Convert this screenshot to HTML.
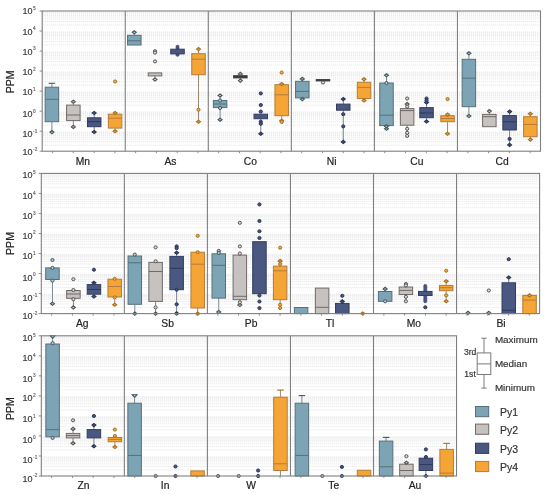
<!DOCTYPE html>
<html><head><meta charset="utf-8"><style>
html,body{margin:0;padding:0;background:#fff;}
svg{display:block;filter:blur(0.3px);font-family:"Liberation Sans",sans-serif;}
</style></head><body>
<svg width="550" height="495" viewBox="0 0 550 495">
<rect width="550" height="495" fill="#fff"/>
<line x1="43.2" y1="25.00" x2="539.5" y2="25.00" stroke="#dadada" stroke-width="0.7" stroke-dasharray="1 1"/>
<line x1="43.2" y1="21.47" x2="539.5" y2="21.47" stroke="#dadada" stroke-width="0.7" stroke-dasharray="1 1"/>
<line x1="43.2" y1="18.97" x2="539.5" y2="18.97" stroke="#dadada" stroke-width="0.7" stroke-dasharray="1 1"/>
<line x1="43.2" y1="17.03" x2="539.5" y2="17.03" stroke="#dadada" stroke-width="0.7" stroke-dasharray="1 1"/>
<line x1="43.2" y1="15.44" x2="539.5" y2="15.44" stroke="#dadada" stroke-width="0.7" stroke-dasharray="1 1"/>
<line x1="43.2" y1="14.10" x2="539.5" y2="14.10" stroke="#dadada" stroke-width="0.7" stroke-dasharray="1 1"/>
<line x1="43.2" y1="12.94" x2="539.5" y2="12.94" stroke="#dadada" stroke-width="0.7" stroke-dasharray="1 1"/>
<line x1="43.2" y1="11.92" x2="539.5" y2="11.92" stroke="#dadada" stroke-width="0.7" stroke-dasharray="1 1"/>
<line x1="43.2" y1="45.03" x2="539.5" y2="45.03" stroke="#dadada" stroke-width="0.7" stroke-dasharray="1 1"/>
<line x1="43.2" y1="41.50" x2="539.5" y2="41.50" stroke="#dadada" stroke-width="0.7" stroke-dasharray="1 1"/>
<line x1="43.2" y1="39.00" x2="539.5" y2="39.00" stroke="#dadada" stroke-width="0.7" stroke-dasharray="1 1"/>
<line x1="43.2" y1="37.06" x2="539.5" y2="37.06" stroke="#dadada" stroke-width="0.7" stroke-dasharray="1 1"/>
<line x1="43.2" y1="35.47" x2="539.5" y2="35.47" stroke="#dadada" stroke-width="0.7" stroke-dasharray="1 1"/>
<line x1="43.2" y1="34.13" x2="539.5" y2="34.13" stroke="#dadada" stroke-width="0.7" stroke-dasharray="1 1"/>
<line x1="43.2" y1="32.97" x2="539.5" y2="32.97" stroke="#dadada" stroke-width="0.7" stroke-dasharray="1 1"/>
<line x1="43.2" y1="31.95" x2="539.5" y2="31.95" stroke="#dadada" stroke-width="0.7" stroke-dasharray="1 1"/>
<line x1="43.2" y1="65.06" x2="539.5" y2="65.06" stroke="#dadada" stroke-width="0.7" stroke-dasharray="1 1"/>
<line x1="43.2" y1="61.53" x2="539.5" y2="61.53" stroke="#dadada" stroke-width="0.7" stroke-dasharray="1 1"/>
<line x1="43.2" y1="59.03" x2="539.5" y2="59.03" stroke="#dadada" stroke-width="0.7" stroke-dasharray="1 1"/>
<line x1="43.2" y1="57.09" x2="539.5" y2="57.09" stroke="#dadada" stroke-width="0.7" stroke-dasharray="1 1"/>
<line x1="43.2" y1="55.50" x2="539.5" y2="55.50" stroke="#dadada" stroke-width="0.7" stroke-dasharray="1 1"/>
<line x1="43.2" y1="54.16" x2="539.5" y2="54.16" stroke="#dadada" stroke-width="0.7" stroke-dasharray="1 1"/>
<line x1="43.2" y1="53.00" x2="539.5" y2="53.00" stroke="#dadada" stroke-width="0.7" stroke-dasharray="1 1"/>
<line x1="43.2" y1="51.97" x2="539.5" y2="51.97" stroke="#dadada" stroke-width="0.7" stroke-dasharray="1 1"/>
<line x1="43.2" y1="85.09" x2="539.5" y2="85.09" stroke="#dadada" stroke-width="0.7" stroke-dasharray="1 1"/>
<line x1="43.2" y1="81.56" x2="539.5" y2="81.56" stroke="#dadada" stroke-width="0.7" stroke-dasharray="1 1"/>
<line x1="43.2" y1="79.06" x2="539.5" y2="79.06" stroke="#dadada" stroke-width="0.7" stroke-dasharray="1 1"/>
<line x1="43.2" y1="77.11" x2="539.5" y2="77.11" stroke="#dadada" stroke-width="0.7" stroke-dasharray="1 1"/>
<line x1="43.2" y1="75.53" x2="539.5" y2="75.53" stroke="#dadada" stroke-width="0.7" stroke-dasharray="1 1"/>
<line x1="43.2" y1="74.19" x2="539.5" y2="74.19" stroke="#dadada" stroke-width="0.7" stroke-dasharray="1 1"/>
<line x1="43.2" y1="73.03" x2="539.5" y2="73.03" stroke="#dadada" stroke-width="0.7" stroke-dasharray="1 1"/>
<line x1="43.2" y1="72.00" x2="539.5" y2="72.00" stroke="#dadada" stroke-width="0.7" stroke-dasharray="1 1"/>
<line x1="43.2" y1="105.11" x2="539.5" y2="105.11" stroke="#dadada" stroke-width="0.7" stroke-dasharray="1 1"/>
<line x1="43.2" y1="101.59" x2="539.5" y2="101.59" stroke="#dadada" stroke-width="0.7" stroke-dasharray="1 1"/>
<line x1="43.2" y1="99.08" x2="539.5" y2="99.08" stroke="#dadada" stroke-width="0.7" stroke-dasharray="1 1"/>
<line x1="43.2" y1="97.14" x2="539.5" y2="97.14" stroke="#dadada" stroke-width="0.7" stroke-dasharray="1 1"/>
<line x1="43.2" y1="95.56" x2="539.5" y2="95.56" stroke="#dadada" stroke-width="0.7" stroke-dasharray="1 1"/>
<line x1="43.2" y1="94.22" x2="539.5" y2="94.22" stroke="#dadada" stroke-width="0.7" stroke-dasharray="1 1"/>
<line x1="43.2" y1="93.06" x2="539.5" y2="93.06" stroke="#dadada" stroke-width="0.7" stroke-dasharray="1 1"/>
<line x1="43.2" y1="92.03" x2="539.5" y2="92.03" stroke="#dadada" stroke-width="0.7" stroke-dasharray="1 1"/>
<line x1="43.2" y1="125.14" x2="539.5" y2="125.14" stroke="#dadada" stroke-width="0.7" stroke-dasharray="1 1"/>
<line x1="43.2" y1="121.62" x2="539.5" y2="121.62" stroke="#dadada" stroke-width="0.7" stroke-dasharray="1 1"/>
<line x1="43.2" y1="119.11" x2="539.5" y2="119.11" stroke="#dadada" stroke-width="0.7" stroke-dasharray="1 1"/>
<line x1="43.2" y1="117.17" x2="539.5" y2="117.17" stroke="#dadada" stroke-width="0.7" stroke-dasharray="1 1"/>
<line x1="43.2" y1="115.59" x2="539.5" y2="115.59" stroke="#dadada" stroke-width="0.7" stroke-dasharray="1 1"/>
<line x1="43.2" y1="114.25" x2="539.5" y2="114.25" stroke="#dadada" stroke-width="0.7" stroke-dasharray="1 1"/>
<line x1="43.2" y1="113.08" x2="539.5" y2="113.08" stroke="#dadada" stroke-width="0.7" stroke-dasharray="1 1"/>
<line x1="43.2" y1="112.06" x2="539.5" y2="112.06" stroke="#dadada" stroke-width="0.7" stroke-dasharray="1 1"/>
<line x1="43.2" y1="145.17" x2="539.5" y2="145.17" stroke="#dadada" stroke-width="0.7" stroke-dasharray="1 1"/>
<line x1="43.2" y1="141.64" x2="539.5" y2="141.64" stroke="#dadada" stroke-width="0.7" stroke-dasharray="1 1"/>
<line x1="43.2" y1="139.14" x2="539.5" y2="139.14" stroke="#dadada" stroke-width="0.7" stroke-dasharray="1 1"/>
<line x1="43.2" y1="137.20" x2="539.5" y2="137.20" stroke="#dadada" stroke-width="0.7" stroke-dasharray="1 1"/>
<line x1="43.2" y1="135.61" x2="539.5" y2="135.61" stroke="#dadada" stroke-width="0.7" stroke-dasharray="1 1"/>
<line x1="43.2" y1="134.27" x2="539.5" y2="134.27" stroke="#dadada" stroke-width="0.7" stroke-dasharray="1 1"/>
<line x1="43.2" y1="133.11" x2="539.5" y2="133.11" stroke="#dadada" stroke-width="0.7" stroke-dasharray="1 1"/>
<line x1="43.2" y1="132.09" x2="539.5" y2="132.09" stroke="#dadada" stroke-width="0.7" stroke-dasharray="1 1"/>
<line x1="42.3" y1="187.40" x2="538.6" y2="187.40" stroke="#dadada" stroke-width="0.7" stroke-dasharray="1 1"/>
<line x1="42.3" y1="183.87" x2="538.6" y2="183.87" stroke="#dadada" stroke-width="0.7" stroke-dasharray="1 1"/>
<line x1="42.3" y1="181.37" x2="538.6" y2="181.37" stroke="#dadada" stroke-width="0.7" stroke-dasharray="1 1"/>
<line x1="42.3" y1="179.43" x2="538.6" y2="179.43" stroke="#dadada" stroke-width="0.7" stroke-dasharray="1 1"/>
<line x1="42.3" y1="177.84" x2="538.6" y2="177.84" stroke="#dadada" stroke-width="0.7" stroke-dasharray="1 1"/>
<line x1="42.3" y1="176.50" x2="538.6" y2="176.50" stroke="#dadada" stroke-width="0.7" stroke-dasharray="1 1"/>
<line x1="42.3" y1="175.34" x2="538.6" y2="175.34" stroke="#dadada" stroke-width="0.7" stroke-dasharray="1 1"/>
<line x1="42.3" y1="174.32" x2="538.6" y2="174.32" stroke="#dadada" stroke-width="0.7" stroke-dasharray="1 1"/>
<line x1="42.3" y1="207.43" x2="538.6" y2="207.43" stroke="#dadada" stroke-width="0.7" stroke-dasharray="1 1"/>
<line x1="42.3" y1="203.90" x2="538.6" y2="203.90" stroke="#dadada" stroke-width="0.7" stroke-dasharray="1 1"/>
<line x1="42.3" y1="201.40" x2="538.6" y2="201.40" stroke="#dadada" stroke-width="0.7" stroke-dasharray="1 1"/>
<line x1="42.3" y1="199.46" x2="538.6" y2="199.46" stroke="#dadada" stroke-width="0.7" stroke-dasharray="1 1"/>
<line x1="42.3" y1="197.87" x2="538.6" y2="197.87" stroke="#dadada" stroke-width="0.7" stroke-dasharray="1 1"/>
<line x1="42.3" y1="196.53" x2="538.6" y2="196.53" stroke="#dadada" stroke-width="0.7" stroke-dasharray="1 1"/>
<line x1="42.3" y1="195.37" x2="538.6" y2="195.37" stroke="#dadada" stroke-width="0.7" stroke-dasharray="1 1"/>
<line x1="42.3" y1="194.35" x2="538.6" y2="194.35" stroke="#dadada" stroke-width="0.7" stroke-dasharray="1 1"/>
<line x1="42.3" y1="227.46" x2="538.6" y2="227.46" stroke="#dadada" stroke-width="0.7" stroke-dasharray="1 1"/>
<line x1="42.3" y1="223.93" x2="538.6" y2="223.93" stroke="#dadada" stroke-width="0.7" stroke-dasharray="1 1"/>
<line x1="42.3" y1="221.43" x2="538.6" y2="221.43" stroke="#dadada" stroke-width="0.7" stroke-dasharray="1 1"/>
<line x1="42.3" y1="219.49" x2="538.6" y2="219.49" stroke="#dadada" stroke-width="0.7" stroke-dasharray="1 1"/>
<line x1="42.3" y1="217.90" x2="538.6" y2="217.90" stroke="#dadada" stroke-width="0.7" stroke-dasharray="1 1"/>
<line x1="42.3" y1="216.56" x2="538.6" y2="216.56" stroke="#dadada" stroke-width="0.7" stroke-dasharray="1 1"/>
<line x1="42.3" y1="215.40" x2="538.6" y2="215.40" stroke="#dadada" stroke-width="0.7" stroke-dasharray="1 1"/>
<line x1="42.3" y1="214.37" x2="538.6" y2="214.37" stroke="#dadada" stroke-width="0.7" stroke-dasharray="1 1"/>
<line x1="42.3" y1="247.49" x2="538.6" y2="247.49" stroke="#dadada" stroke-width="0.7" stroke-dasharray="1 1"/>
<line x1="42.3" y1="243.96" x2="538.6" y2="243.96" stroke="#dadada" stroke-width="0.7" stroke-dasharray="1 1"/>
<line x1="42.3" y1="241.46" x2="538.6" y2="241.46" stroke="#dadada" stroke-width="0.7" stroke-dasharray="1 1"/>
<line x1="42.3" y1="239.51" x2="538.6" y2="239.51" stroke="#dadada" stroke-width="0.7" stroke-dasharray="1 1"/>
<line x1="42.3" y1="237.93" x2="538.6" y2="237.93" stroke="#dadada" stroke-width="0.7" stroke-dasharray="1 1"/>
<line x1="42.3" y1="236.59" x2="538.6" y2="236.59" stroke="#dadada" stroke-width="0.7" stroke-dasharray="1 1"/>
<line x1="42.3" y1="235.43" x2="538.6" y2="235.43" stroke="#dadada" stroke-width="0.7" stroke-dasharray="1 1"/>
<line x1="42.3" y1="234.40" x2="538.6" y2="234.40" stroke="#dadada" stroke-width="0.7" stroke-dasharray="1 1"/>
<line x1="42.3" y1="267.51" x2="538.6" y2="267.51" stroke="#dadada" stroke-width="0.7" stroke-dasharray="1 1"/>
<line x1="42.3" y1="263.99" x2="538.6" y2="263.99" stroke="#dadada" stroke-width="0.7" stroke-dasharray="1 1"/>
<line x1="42.3" y1="261.48" x2="538.6" y2="261.48" stroke="#dadada" stroke-width="0.7" stroke-dasharray="1 1"/>
<line x1="42.3" y1="259.54" x2="538.6" y2="259.54" stroke="#dadada" stroke-width="0.7" stroke-dasharray="1 1"/>
<line x1="42.3" y1="257.96" x2="538.6" y2="257.96" stroke="#dadada" stroke-width="0.7" stroke-dasharray="1 1"/>
<line x1="42.3" y1="256.62" x2="538.6" y2="256.62" stroke="#dadada" stroke-width="0.7" stroke-dasharray="1 1"/>
<line x1="42.3" y1="255.46" x2="538.6" y2="255.46" stroke="#dadada" stroke-width="0.7" stroke-dasharray="1 1"/>
<line x1="42.3" y1="254.43" x2="538.6" y2="254.43" stroke="#dadada" stroke-width="0.7" stroke-dasharray="1 1"/>
<line x1="42.3" y1="287.54" x2="538.6" y2="287.54" stroke="#dadada" stroke-width="0.7" stroke-dasharray="1 1"/>
<line x1="42.3" y1="284.02" x2="538.6" y2="284.02" stroke="#dadada" stroke-width="0.7" stroke-dasharray="1 1"/>
<line x1="42.3" y1="281.51" x2="538.6" y2="281.51" stroke="#dadada" stroke-width="0.7" stroke-dasharray="1 1"/>
<line x1="42.3" y1="279.57" x2="538.6" y2="279.57" stroke="#dadada" stroke-width="0.7" stroke-dasharray="1 1"/>
<line x1="42.3" y1="277.99" x2="538.6" y2="277.99" stroke="#dadada" stroke-width="0.7" stroke-dasharray="1 1"/>
<line x1="42.3" y1="276.65" x2="538.6" y2="276.65" stroke="#dadada" stroke-width="0.7" stroke-dasharray="1 1"/>
<line x1="42.3" y1="275.48" x2="538.6" y2="275.48" stroke="#dadada" stroke-width="0.7" stroke-dasharray="1 1"/>
<line x1="42.3" y1="274.46" x2="538.6" y2="274.46" stroke="#dadada" stroke-width="0.7" stroke-dasharray="1 1"/>
<line x1="42.3" y1="307.57" x2="538.6" y2="307.57" stroke="#dadada" stroke-width="0.7" stroke-dasharray="1 1"/>
<line x1="42.3" y1="304.04" x2="538.6" y2="304.04" stroke="#dadada" stroke-width="0.7" stroke-dasharray="1 1"/>
<line x1="42.3" y1="301.54" x2="538.6" y2="301.54" stroke="#dadada" stroke-width="0.7" stroke-dasharray="1 1"/>
<line x1="42.3" y1="299.60" x2="538.6" y2="299.60" stroke="#dadada" stroke-width="0.7" stroke-dasharray="1 1"/>
<line x1="42.3" y1="298.01" x2="538.6" y2="298.01" stroke="#dadada" stroke-width="0.7" stroke-dasharray="1 1"/>
<line x1="42.3" y1="296.67" x2="538.6" y2="296.67" stroke="#dadada" stroke-width="0.7" stroke-dasharray="1 1"/>
<line x1="42.3" y1="295.51" x2="538.6" y2="295.51" stroke="#dadada" stroke-width="0.7" stroke-dasharray="1 1"/>
<line x1="42.3" y1="294.49" x2="538.6" y2="294.49" stroke="#dadada" stroke-width="0.7" stroke-dasharray="1 1"/>
<line x1="42.3" y1="349.80" x2="455.6" y2="349.80" stroke="#dadada" stroke-width="0.7" stroke-dasharray="1 1"/>
<line x1="42.3" y1="346.27" x2="455.6" y2="346.27" stroke="#dadada" stroke-width="0.7" stroke-dasharray="1 1"/>
<line x1="42.3" y1="343.77" x2="455.6" y2="343.77" stroke="#dadada" stroke-width="0.7" stroke-dasharray="1 1"/>
<line x1="42.3" y1="341.83" x2="455.6" y2="341.83" stroke="#dadada" stroke-width="0.7" stroke-dasharray="1 1"/>
<line x1="42.3" y1="340.24" x2="455.6" y2="340.24" stroke="#dadada" stroke-width="0.7" stroke-dasharray="1 1"/>
<line x1="42.3" y1="338.90" x2="455.6" y2="338.90" stroke="#dadada" stroke-width="0.7" stroke-dasharray="1 1"/>
<line x1="42.3" y1="337.74" x2="455.6" y2="337.74" stroke="#dadada" stroke-width="0.7" stroke-dasharray="1 1"/>
<line x1="42.3" y1="336.72" x2="455.6" y2="336.72" stroke="#dadada" stroke-width="0.7" stroke-dasharray="1 1"/>
<line x1="42.3" y1="369.83" x2="455.6" y2="369.83" stroke="#dadada" stroke-width="0.7" stroke-dasharray="1 1"/>
<line x1="42.3" y1="366.30" x2="455.6" y2="366.30" stroke="#dadada" stroke-width="0.7" stroke-dasharray="1 1"/>
<line x1="42.3" y1="363.80" x2="455.6" y2="363.80" stroke="#dadada" stroke-width="0.7" stroke-dasharray="1 1"/>
<line x1="42.3" y1="361.86" x2="455.6" y2="361.86" stroke="#dadada" stroke-width="0.7" stroke-dasharray="1 1"/>
<line x1="42.3" y1="360.27" x2="455.6" y2="360.27" stroke="#dadada" stroke-width="0.7" stroke-dasharray="1 1"/>
<line x1="42.3" y1="358.93" x2="455.6" y2="358.93" stroke="#dadada" stroke-width="0.7" stroke-dasharray="1 1"/>
<line x1="42.3" y1="357.77" x2="455.6" y2="357.77" stroke="#dadada" stroke-width="0.7" stroke-dasharray="1 1"/>
<line x1="42.3" y1="356.75" x2="455.6" y2="356.75" stroke="#dadada" stroke-width="0.7" stroke-dasharray="1 1"/>
<line x1="42.3" y1="389.86" x2="455.6" y2="389.86" stroke="#dadada" stroke-width="0.7" stroke-dasharray="1 1"/>
<line x1="42.3" y1="386.33" x2="455.6" y2="386.33" stroke="#dadada" stroke-width="0.7" stroke-dasharray="1 1"/>
<line x1="42.3" y1="383.83" x2="455.6" y2="383.83" stroke="#dadada" stroke-width="0.7" stroke-dasharray="1 1"/>
<line x1="42.3" y1="381.89" x2="455.6" y2="381.89" stroke="#dadada" stroke-width="0.7" stroke-dasharray="1 1"/>
<line x1="42.3" y1="380.30" x2="455.6" y2="380.30" stroke="#dadada" stroke-width="0.7" stroke-dasharray="1 1"/>
<line x1="42.3" y1="378.96" x2="455.6" y2="378.96" stroke="#dadada" stroke-width="0.7" stroke-dasharray="1 1"/>
<line x1="42.3" y1="377.80" x2="455.6" y2="377.80" stroke="#dadada" stroke-width="0.7" stroke-dasharray="1 1"/>
<line x1="42.3" y1="376.77" x2="455.6" y2="376.77" stroke="#dadada" stroke-width="0.7" stroke-dasharray="1 1"/>
<line x1="42.3" y1="409.89" x2="455.6" y2="409.89" stroke="#dadada" stroke-width="0.7" stroke-dasharray="1 1"/>
<line x1="42.3" y1="406.36" x2="455.6" y2="406.36" stroke="#dadada" stroke-width="0.7" stroke-dasharray="1 1"/>
<line x1="42.3" y1="403.86" x2="455.6" y2="403.86" stroke="#dadada" stroke-width="0.7" stroke-dasharray="1 1"/>
<line x1="42.3" y1="401.91" x2="455.6" y2="401.91" stroke="#dadada" stroke-width="0.7" stroke-dasharray="1 1"/>
<line x1="42.3" y1="400.33" x2="455.6" y2="400.33" stroke="#dadada" stroke-width="0.7" stroke-dasharray="1 1"/>
<line x1="42.3" y1="398.99" x2="455.6" y2="398.99" stroke="#dadada" stroke-width="0.7" stroke-dasharray="1 1"/>
<line x1="42.3" y1="397.83" x2="455.6" y2="397.83" stroke="#dadada" stroke-width="0.7" stroke-dasharray="1 1"/>
<line x1="42.3" y1="396.80" x2="455.6" y2="396.80" stroke="#dadada" stroke-width="0.7" stroke-dasharray="1 1"/>
<line x1="42.3" y1="429.91" x2="455.6" y2="429.91" stroke="#dadada" stroke-width="0.7" stroke-dasharray="1 1"/>
<line x1="42.3" y1="426.39" x2="455.6" y2="426.39" stroke="#dadada" stroke-width="0.7" stroke-dasharray="1 1"/>
<line x1="42.3" y1="423.88" x2="455.6" y2="423.88" stroke="#dadada" stroke-width="0.7" stroke-dasharray="1 1"/>
<line x1="42.3" y1="421.94" x2="455.6" y2="421.94" stroke="#dadada" stroke-width="0.7" stroke-dasharray="1 1"/>
<line x1="42.3" y1="420.36" x2="455.6" y2="420.36" stroke="#dadada" stroke-width="0.7" stroke-dasharray="1 1"/>
<line x1="42.3" y1="419.02" x2="455.6" y2="419.02" stroke="#dadada" stroke-width="0.7" stroke-dasharray="1 1"/>
<line x1="42.3" y1="417.86" x2="455.6" y2="417.86" stroke="#dadada" stroke-width="0.7" stroke-dasharray="1 1"/>
<line x1="42.3" y1="416.83" x2="455.6" y2="416.83" stroke="#dadada" stroke-width="0.7" stroke-dasharray="1 1"/>
<line x1="42.3" y1="449.94" x2="455.6" y2="449.94" stroke="#dadada" stroke-width="0.7" stroke-dasharray="1 1"/>
<line x1="42.3" y1="446.42" x2="455.6" y2="446.42" stroke="#dadada" stroke-width="0.7" stroke-dasharray="1 1"/>
<line x1="42.3" y1="443.91" x2="455.6" y2="443.91" stroke="#dadada" stroke-width="0.7" stroke-dasharray="1 1"/>
<line x1="42.3" y1="441.97" x2="455.6" y2="441.97" stroke="#dadada" stroke-width="0.7" stroke-dasharray="1 1"/>
<line x1="42.3" y1="440.39" x2="455.6" y2="440.39" stroke="#dadada" stroke-width="0.7" stroke-dasharray="1 1"/>
<line x1="42.3" y1="439.05" x2="455.6" y2="439.05" stroke="#dadada" stroke-width="0.7" stroke-dasharray="1 1"/>
<line x1="42.3" y1="437.88" x2="455.6" y2="437.88" stroke="#dadada" stroke-width="0.7" stroke-dasharray="1 1"/>
<line x1="42.3" y1="436.86" x2="455.6" y2="436.86" stroke="#dadada" stroke-width="0.7" stroke-dasharray="1 1"/>
<line x1="42.3" y1="469.97" x2="455.6" y2="469.97" stroke="#dadada" stroke-width="0.7" stroke-dasharray="1 1"/>
<line x1="42.3" y1="466.44" x2="455.6" y2="466.44" stroke="#dadada" stroke-width="0.7" stroke-dasharray="1 1"/>
<line x1="42.3" y1="463.94" x2="455.6" y2="463.94" stroke="#dadada" stroke-width="0.7" stroke-dasharray="1 1"/>
<line x1="42.3" y1="462.00" x2="455.6" y2="462.00" stroke="#dadada" stroke-width="0.7" stroke-dasharray="1 1"/>
<line x1="42.3" y1="460.41" x2="455.6" y2="460.41" stroke="#dadada" stroke-width="0.7" stroke-dasharray="1 1"/>
<line x1="42.3" y1="459.07" x2="455.6" y2="459.07" stroke="#dadada" stroke-width="0.7" stroke-dasharray="1 1"/>
<line x1="42.3" y1="457.91" x2="455.6" y2="457.91" stroke="#dadada" stroke-width="0.7" stroke-dasharray="1 1"/>
<line x1="42.3" y1="456.89" x2="455.6" y2="456.89" stroke="#dadada" stroke-width="0.7" stroke-dasharray="1 1"/>
<line x1="51.90" y1="83.30" x2="51.90" y2="87.20" stroke="#7d8a90" stroke-width="1"/>
<line x1="51.90" y1="121.70" x2="51.90" y2="132.10" stroke="#7d8a90" stroke-width="1"/>
<rect x="45.15" y="87.20" width="13.50" height="34.50" fill="#7ca4b4" stroke="#56707a" stroke-width="1"/>
<line x1="45.15" y1="99.30" x2="58.65" y2="99.30" stroke="#56707a" stroke-width="1"/>
<line x1="48.60" y1="83.30" x2="55.20" y2="83.30" stroke="#44565e" stroke-width="1.1"/>
<path d="M49.90 132.10L51.90 130.50L53.90 132.10L51.90 133.70Z" fill="#b9ccd4" stroke="#44565e" stroke-width="1.1"/>
<line x1="73.35" y1="101.80" x2="73.35" y2="105.10" stroke="#8a8684" stroke-width="1"/>
<line x1="73.35" y1="120.60" x2="73.35" y2="126.90" stroke="#8a8684" stroke-width="1"/>
<rect x="66.60" y="105.10" width="13.50" height="15.50" fill="#c7c2bf" stroke="#6e6b69" stroke-width="1"/>
<line x1="66.60" y1="115.00" x2="80.10" y2="115.00" stroke="#6e6b69" stroke-width="1"/>
<path d="M71.35 101.80L73.35 100.20L75.35 101.80L73.35 103.40Z" fill="#dedad8" stroke="#58534f" stroke-width="1.1"/>
<path d="M71.35 126.90L73.35 125.30L75.35 126.90L73.35 128.50Z" fill="#dedad8" stroke="#58534f" stroke-width="1.1"/>
<line x1="94.20" y1="113.00" x2="94.20" y2="117.80" stroke="#7a7f8e" stroke-width="1"/>
<line x1="94.20" y1="126.70" x2="94.20" y2="132.00" stroke="#7a7f8e" stroke-width="1"/>
<rect x="87.45" y="117.80" width="13.50" height="8.90" fill="#4a5780" stroke="#323c5e" stroke-width="1"/>
<line x1="87.45" y1="121.70" x2="100.95" y2="121.70" stroke="#2e385a" stroke-width="1"/>
<path d="M92.20 113.00L94.20 111.40L96.20 113.00L94.20 114.60Z" fill="#465380" stroke="#2c3657" stroke-width="1.1"/>
<path d="M92.20 132.00L94.20 130.40L96.20 132.00L94.20 133.60Z" fill="#465380" stroke="#2c3657" stroke-width="1.1"/>
<line x1="115.10" y1="113.00" x2="115.10" y2="114.20" stroke="#9a8a78" stroke-width="1"/>
<line x1="115.10" y1="128.10" x2="115.10" y2="131.20" stroke="#9a8a78" stroke-width="1"/>
<rect x="108.35" y="114.20" width="13.50" height="13.90" fill="#f5a536" stroke="#b47b3a" stroke-width="1"/>
<line x1="108.35" y1="118.20" x2="121.85" y2="118.20" stroke="#b47b3a" stroke-width="1"/>
<path d="M113.10 113.00L115.10 111.40L117.10 113.00L115.10 114.60Z" fill="#f2a83f" stroke="#a8701f" stroke-width="1.1"/>
<path d="M113.10 131.20L115.10 129.60L117.10 131.20L115.10 132.80Z" fill="#f2a83f" stroke="#a8701f" stroke-width="1.1"/>
<ellipse cx="115.10" cy="81.50" rx="1.6" ry="1.55" fill="#f2a83f" stroke="#a8701f" stroke-width="1"/>
<line x1="134.30" y1="32.30" x2="134.30" y2="35.30" stroke="#7d8a90" stroke-width="1"/>
<rect x="127.55" y="35.30" width="13.50" height="9.70" fill="#7ca4b4" stroke="#56707a" stroke-width="1"/>
<line x1="127.55" y1="40.80" x2="141.05" y2="40.80" stroke="#56707a" stroke-width="1"/>
<path d="M132.30 32.30L134.30 30.70L136.30 32.30L134.30 33.90Z" fill="#b9ccd4" stroke="#44565e" stroke-width="1.1"/>
<line x1="155.00" y1="75.90" x2="155.00" y2="79.50" stroke="#8a8684" stroke-width="1"/>
<rect x="148.25" y="72.90" width="13.50" height="3.00" fill="#c7c2bf" stroke="#6e6b69" stroke-width="1"/>
<path d="M153.00 79.50L155.00 77.90L157.00 79.50L155.00 81.10Z" fill="#dedad8" stroke="#58534f" stroke-width="1.1"/>
<ellipse cx="155.00" cy="51.20" rx="1.6" ry="1.55" fill="#dedad8" stroke="#58534f" stroke-width="1"/>
<ellipse cx="155.00" cy="52.60" rx="1.6" ry="1.55" fill="#dedad8" stroke="#58534f" stroke-width="1"/>
<ellipse cx="155.00" cy="61.40" rx="1.6" ry="1.55" fill="#dedad8" stroke="#58534f" stroke-width="1"/>
<rect x="176.00" y="45.3" width="3" height="11" rx="1.2" fill="#4a5780" stroke="#323c5e" stroke-width="0.6"/>
<rect x="170.75" y="49.20" width="13.50" height="4.70" fill="#4a5780" stroke="#323c5e" stroke-width="1"/>
<line x1="198.50" y1="49.10" x2="198.50" y2="53.70" stroke="#9a8a78" stroke-width="1"/>
<line x1="198.50" y1="74.70" x2="198.50" y2="121.80" stroke="#9a8a78" stroke-width="1"/>
<rect x="191.75" y="53.70" width="13.50" height="21.00" fill="#f5a536" stroke="#b47b3a" stroke-width="1"/>
<line x1="191.75" y1="59.20" x2="205.25" y2="59.20" stroke="#b47b3a" stroke-width="1"/>
<path d="M196.50 49.10L198.50 47.50L200.50 49.10L198.50 50.70Z" fill="#f2a83f" stroke="#a8701f" stroke-width="1.1"/>
<path d="M196.50 121.80L198.50 120.20L200.50 121.80L198.50 123.40Z" fill="#f2a83f" stroke="#a8701f" stroke-width="1.1"/>
<ellipse cx="198.50" cy="109.70" rx="1.6" ry="1.55" fill="#f2a83f" stroke="#a8701f" stroke-width="1"/>
<line x1="220.10" y1="95.50" x2="220.10" y2="100.50" stroke="#7d8a90" stroke-width="1"/>
<line x1="220.10" y1="107.60" x2="220.10" y2="119.70" stroke="#7d8a90" stroke-width="1"/>
<rect x="213.35" y="100.50" width="13.50" height="7.10" fill="#7ca4b4" stroke="#56707a" stroke-width="1"/>
<line x1="213.35" y1="104.00" x2="226.85" y2="104.00" stroke="#56707a" stroke-width="1"/>
<path d="M218.10 95.50L220.10 93.90L222.10 95.50L220.10 97.10Z" fill="#b9ccd4" stroke="#44565e" stroke-width="1.1"/>
<path d="M218.10 119.70L220.10 118.10L222.10 119.70L220.10 121.30Z" fill="#b9ccd4" stroke="#44565e" stroke-width="1.1"/>
<ellipse cx="220.10" cy="100.50" rx="1.6" ry="1.55" fill="#b9ccd4" stroke="#44565e" stroke-width="1"/>
<ellipse cx="220.10" cy="108.00" rx="1.6" ry="1.55" fill="#b9ccd4" stroke="#44565e" stroke-width="1"/>
<line x1="240.35" y1="73.90" x2="240.35" y2="75.70" stroke="#8a8684" stroke-width="1"/>
<line x1="240.35" y1="77.90" x2="240.35" y2="80.60" stroke="#8a8684" stroke-width="1"/>
<rect x="233.60" y="75.70" width="13.50" height="2.20" fill="#3d3b3a" stroke="#3d3b3a" stroke-width="1"/>
<path d="M238.35 73.90L240.35 72.30L242.35 73.90L240.35 75.50Z" fill="#dedad8" stroke="#58534f" stroke-width="1.1"/>
<path d="M238.35 80.60L240.35 79.00L242.35 80.60L240.35 82.20Z" fill="#dedad8" stroke="#58534f" stroke-width="1.1"/>
<line x1="260.80" y1="118.70" x2="260.80" y2="133.80" stroke="#7a7f8e" stroke-width="1"/>
<rect x="254.05" y="114.20" width="13.50" height="4.50" fill="#4a5780" stroke="#323c5e" stroke-width="1"/>
<path d="M258.80 133.80L260.80 132.20L262.80 133.80L260.80 135.40Z" fill="#465380" stroke="#2c3657" stroke-width="1.1"/>
<ellipse cx="260.80" cy="93.40" rx="1.6" ry="1.55" fill="#465380" stroke="#2c3657" stroke-width="1"/>
<ellipse cx="260.80" cy="105.00" rx="1.6" ry="1.55" fill="#465380" stroke="#2c3657" stroke-width="1"/>
<ellipse cx="260.80" cy="111.60" rx="1.6" ry="1.55" fill="#465380" stroke="#2c3657" stroke-width="1"/>
<ellipse cx="260.80" cy="121.70" rx="1.6" ry="1.55" fill="#465380" stroke="#2c3657" stroke-width="1"/>
<ellipse cx="260.80" cy="123.70" rx="1.6" ry="1.55" fill="#465380" stroke="#2c3657" stroke-width="1"/>
<line x1="281.70" y1="84.00" x2="281.70" y2="84.70" stroke="#9a8a78" stroke-width="1"/>
<line x1="281.70" y1="115.70" x2="281.70" y2="120.70" stroke="#9a8a78" stroke-width="1"/>
<rect x="274.95" y="84.70" width="13.50" height="31.00" fill="#f5a536" stroke="#b47b3a" stroke-width="1"/>
<line x1="274.95" y1="94.80" x2="288.45" y2="94.80" stroke="#b47b3a" stroke-width="1"/>
<path d="M279.70 84.00L281.70 82.40L283.70 84.00L281.70 85.60Z" fill="#f2a83f" stroke="#a8701f" stroke-width="1.1"/>
<path d="M279.70 120.70L281.70 119.10L283.70 120.70L281.70 122.30Z" fill="#f2a83f" stroke="#a8701f" stroke-width="1.1"/>
<ellipse cx="281.70" cy="72.60" rx="1.6" ry="1.55" fill="#f2a83f" stroke="#a8701f" stroke-width="1"/>
<ellipse cx="281.70" cy="122.00" rx="1.6" ry="1.55" fill="#f2a83f" stroke="#a8701f" stroke-width="1"/>
<line x1="302.30" y1="78.90" x2="302.30" y2="81.30" stroke="#7d8a90" stroke-width="1"/>
<line x1="302.30" y1="97.90" x2="302.30" y2="99.10" stroke="#7d8a90" stroke-width="1"/>
<rect x="295.55" y="81.30" width="13.50" height="16.60" fill="#7ca4b4" stroke="#56707a" stroke-width="1"/>
<line x1="295.55" y1="91.40" x2="309.05" y2="91.40" stroke="#56707a" stroke-width="1"/>
<path d="M300.30 78.90L302.30 77.30L304.30 78.90L302.30 80.50Z" fill="#b9ccd4" stroke="#44565e" stroke-width="1.1"/>
<path d="M300.30 99.10L302.30 97.50L304.30 99.10L302.30 100.70Z" fill="#b9ccd4" stroke="#44565e" stroke-width="1.1"/>
<rect x="316.25" y="79.60" width="13.50" height="1.30" fill="#3d3b3a" stroke="#3d3b3a" stroke-width="1"/>
<ellipse cx="323.00" cy="82.50" rx="1.6" ry="1.55" fill="#dedad8" stroke="#58534f" stroke-width="1"/>
<line x1="343.25" y1="99.10" x2="343.25" y2="104.10" stroke="#7a7f8e" stroke-width="1"/>
<line x1="343.25" y1="110.20" x2="343.25" y2="141.90" stroke="#7a7f8e" stroke-width="1"/>
<rect x="336.50" y="104.10" width="13.50" height="6.10" fill="#4a5780" stroke="#323c5e" stroke-width="1"/>
<path d="M341.25 99.10L343.25 97.50L345.25 99.10L343.25 100.70Z" fill="#465380" stroke="#2c3657" stroke-width="1.1"/>
<path d="M341.25 141.90L343.25 140.30L345.25 141.90L343.25 143.50Z" fill="#465380" stroke="#2c3657" stroke-width="1.1"/>
<ellipse cx="343.25" cy="114.20" rx="1.6" ry="1.55" fill="#465380" stroke="#2c3657" stroke-width="1"/>
<ellipse cx="343.25" cy="126.40" rx="1.6" ry="1.55" fill="#465380" stroke="#2c3657" stroke-width="1"/>
<line x1="364.05" y1="79.30" x2="364.05" y2="82.30" stroke="#9a8a78" stroke-width="1"/>
<line x1="364.05" y1="98.50" x2="364.05" y2="100.50" stroke="#9a8a78" stroke-width="1"/>
<rect x="357.30" y="82.30" width="13.50" height="16.20" fill="#f5a536" stroke="#b47b3a" stroke-width="1"/>
<line x1="357.30" y1="87.40" x2="370.80" y2="87.40" stroke="#b47b3a" stroke-width="1"/>
<path d="M362.05 79.30L364.05 77.70L366.05 79.30L364.05 80.90Z" fill="#f2a83f" stroke="#a8701f" stroke-width="1.1"/>
<path d="M362.05 100.50L364.05 98.90L366.05 100.50L364.05 102.10Z" fill="#f2a83f" stroke="#a8701f" stroke-width="1.1"/>
<line x1="386.50" y1="75.30" x2="386.50" y2="83.00" stroke="#7d8a90" stroke-width="1"/>
<line x1="386.50" y1="125.60" x2="386.50" y2="128.80" stroke="#7d8a90" stroke-width="1"/>
<rect x="379.75" y="83.00" width="13.50" height="42.60" fill="#7ca4b4" stroke="#56707a" stroke-width="1"/>
<line x1="379.75" y1="115.20" x2="393.25" y2="115.20" stroke="#56707a" stroke-width="1"/>
<path d="M384.50 75.30L386.50 73.70L388.50 75.30L386.50 76.90Z" fill="#b9ccd4" stroke="#44565e" stroke-width="1.1"/>
<path d="M384.50 128.80L386.50 127.20L388.50 128.80L386.50 130.40Z" fill="#b9ccd4" stroke="#44565e" stroke-width="1.1"/>
<ellipse cx="386.50" cy="83.00" rx="1.6" ry="1.55" fill="#b9ccd4" stroke="#44565e" stroke-width="1"/>
<path d="M384.50 126.20L386.50 124.60L388.50 126.20L386.50 127.80Z" fill="#b9ccd4" stroke="#44565e" stroke-width="1.1"/>
<line x1="407.15" y1="104.10" x2="407.15" y2="108.60" stroke="#8a8684" stroke-width="1"/>
<line x1="407.15" y1="125.20" x2="407.15" y2="135.90" stroke="#8a8684" stroke-width="1"/>
<rect x="400.40" y="108.60" width="13.50" height="16.60" fill="#c7c2bf" stroke="#6e6b69" stroke-width="1"/>
<line x1="400.40" y1="110.60" x2="413.90" y2="110.60" stroke="#6e6b69" stroke-width="1"/>
<path d="M405.15 104.10L407.15 102.50L409.15 104.10L407.15 105.70Z" fill="#dedad8" stroke="#58534f" stroke-width="1.1"/>
<ellipse cx="407.15" cy="135.90" rx="1.6" ry="1.55" fill="#dedad8" stroke="#58534f" stroke-width="1"/>
<ellipse cx="407.15" cy="98.50" rx="1.6" ry="1.55" fill="#dedad8" stroke="#58534f" stroke-width="1"/>
<ellipse cx="407.15" cy="106.60" rx="1.6" ry="1.55" fill="#dedad8" stroke="#58534f" stroke-width="1"/>
<ellipse cx="407.15" cy="128.80" rx="1.6" ry="1.55" fill="#dedad8" stroke="#58534f" stroke-width="1"/>
<ellipse cx="407.15" cy="132.80" rx="1.6" ry="1.55" fill="#dedad8" stroke="#58534f" stroke-width="1"/>
<line x1="426.55" y1="102.50" x2="426.55" y2="107.60" stroke="#7a7f8e" stroke-width="1"/>
<line x1="426.55" y1="117.70" x2="426.55" y2="121.50" stroke="#7a7f8e" stroke-width="1"/>
<rect x="419.80" y="107.60" width="13.50" height="10.10" fill="#4a5780" stroke="#323c5e" stroke-width="1"/>
<line x1="419.80" y1="113.00" x2="433.30" y2="113.00" stroke="#2e385a" stroke-width="1"/>
<path d="M424.55 102.50L426.55 100.90L428.55 102.50L426.55 104.10Z" fill="#465380" stroke="#2c3657" stroke-width="1.1"/>
<path d="M424.55 121.50L426.55 119.90L428.55 121.50L426.55 123.10Z" fill="#465380" stroke="#2c3657" stroke-width="1.1"/>
<ellipse cx="426.55" cy="98.50" rx="1.6" ry="1.55" fill="#465380" stroke="#2c3657" stroke-width="1"/>
<ellipse cx="426.55" cy="100.50" rx="1.6" ry="1.55" fill="#465380" stroke="#2c3657" stroke-width="1"/>
<line x1="447.55" y1="114.60" x2="447.55" y2="115.70" stroke="#9a8a78" stroke-width="1"/>
<line x1="447.55" y1="121.70" x2="447.55" y2="133.80" stroke="#9a8a78" stroke-width="1"/>
<rect x="440.80" y="115.70" width="13.50" height="6.00" fill="#f5a536" stroke="#b47b3a" stroke-width="1"/>
<line x1="440.80" y1="118.50" x2="454.30" y2="118.50" stroke="#b47b3a" stroke-width="1"/>
<path d="M445.55 114.60L447.55 113.00L449.55 114.60L447.55 116.20Z" fill="#f2a83f" stroke="#a8701f" stroke-width="1.1"/>
<path d="M445.55 133.80L447.55 132.20L449.55 133.80L447.55 135.40Z" fill="#f2a83f" stroke="#a8701f" stroke-width="1.1"/>
<ellipse cx="447.55" cy="99.10" rx="1.6" ry="1.55" fill="#f2a83f" stroke="#a8701f" stroke-width="1"/>
<line x1="468.90" y1="53.30" x2="468.90" y2="59.30" stroke="#7d8a90" stroke-width="1"/>
<line x1="468.90" y1="106.70" x2="468.90" y2="116.00" stroke="#7d8a90" stroke-width="1"/>
<rect x="462.15" y="59.30" width="13.50" height="47.40" fill="#7ca4b4" stroke="#56707a" stroke-width="1"/>
<line x1="462.15" y1="78.20" x2="475.65" y2="78.20" stroke="#56707a" stroke-width="1"/>
<path d="M466.90 53.30L468.90 51.70L470.90 53.30L468.90 54.90Z" fill="#b9ccd4" stroke="#44565e" stroke-width="1.1"/>
<path d="M466.90 116.00L468.90 114.40L470.90 116.00L468.90 117.60Z" fill="#b9ccd4" stroke="#44565e" stroke-width="1.1"/>
<line x1="489.35" y1="111.10" x2="489.35" y2="114.40" stroke="#8a8684" stroke-width="1"/>
<rect x="482.60" y="114.40" width="13.50" height="12.30" fill="#c7c2bf" stroke="#6e6b69" stroke-width="1"/>
<line x1="482.60" y1="116.70" x2="496.10" y2="116.70" stroke="#6e6b69" stroke-width="1"/>
<path d="M487.35 111.10L489.35 109.50L491.35 111.10L489.35 112.70Z" fill="#dedad8" stroke="#58534f" stroke-width="1.1"/>
<line x1="509.60" y1="111.60" x2="509.60" y2="115.60" stroke="#7a7f8e" stroke-width="1"/>
<line x1="509.60" y1="130.00" x2="509.60" y2="144.90" stroke="#7a7f8e" stroke-width="1"/>
<rect x="502.85" y="115.60" width="13.50" height="14.40" fill="#4a5780" stroke="#323c5e" stroke-width="1"/>
<line x1="502.85" y1="121.80" x2="516.35" y2="121.80" stroke="#2e385a" stroke-width="1"/>
<path d="M507.60 111.60L509.60 110.00L511.60 111.60L509.60 113.20Z" fill="#465380" stroke="#2c3657" stroke-width="1.1"/>
<path d="M507.60 144.90L509.60 143.30L511.60 144.90L509.60 146.50Z" fill="#465380" stroke="#2c3657" stroke-width="1.1"/>
<ellipse cx="509.60" cy="138.90" rx="1.6" ry="1.55" fill="#465380" stroke="#2c3657" stroke-width="1"/>
<line x1="530.35" y1="113.80" x2="530.35" y2="116.70" stroke="#9a8a78" stroke-width="1"/>
<line x1="530.35" y1="136.70" x2="530.35" y2="139.60" stroke="#9a8a78" stroke-width="1"/>
<rect x="523.60" y="116.70" width="13.50" height="20.00" fill="#f5a536" stroke="#b47b3a" stroke-width="1"/>
<line x1="523.60" y1="124.40" x2="537.10" y2="124.40" stroke="#b47b3a" stroke-width="1"/>
<path d="M528.35 113.80L530.35 112.20L532.35 113.80L530.35 115.40Z" fill="#f2a83f" stroke="#a8701f" stroke-width="1.1"/>
<path d="M528.35 139.60L530.35 138.00L532.35 139.60L530.35 141.20Z" fill="#f2a83f" stroke="#a8701f" stroke-width="1.1"/>
<rect x="42.20" y="11.00" width="498.30" height="140.20" fill="none" stroke="#808080" stroke-width="1.1"/>
<line x1="125.25" y1="11.00" x2="125.25" y2="151.20" stroke="#808080" stroke-width="1.1"/>
<line x1="208.30" y1="11.00" x2="208.30" y2="151.20" stroke="#808080" stroke-width="1.1"/>
<line x1="291.35" y1="11.00" x2="291.35" y2="151.20" stroke="#808080" stroke-width="1.1"/>
<line x1="374.40" y1="11.00" x2="374.40" y2="151.20" stroke="#808080" stroke-width="1.1"/>
<line x1="457.45" y1="11.00" x2="457.45" y2="151.20" stroke="#808080" stroke-width="1.1"/>
<line x1="52.58" y1="151.20" x2="52.58" y2="153.20" stroke="#808080" stroke-width="0.9"/>
<line x1="73.34" y1="151.20" x2="73.34" y2="153.20" stroke="#808080" stroke-width="0.9"/>
<line x1="94.11" y1="151.20" x2="94.11" y2="153.20" stroke="#808080" stroke-width="0.9"/>
<line x1="114.87" y1="151.20" x2="114.87" y2="153.20" stroke="#808080" stroke-width="0.9"/>
<text x="82.90" y="164.50" font-size="10.3" text-anchor="middle" fill="#222" stroke="#222" stroke-width="0.18">Mn</text>
<line x1="135.63" y1="151.20" x2="135.63" y2="153.20" stroke="#808080" stroke-width="0.9"/>
<line x1="156.39" y1="151.20" x2="156.39" y2="153.20" stroke="#808080" stroke-width="0.9"/>
<line x1="177.16" y1="151.20" x2="177.16" y2="153.20" stroke="#808080" stroke-width="0.9"/>
<line x1="197.92" y1="151.20" x2="197.92" y2="153.20" stroke="#808080" stroke-width="0.9"/>
<text x="170.50" y="164.50" font-size="10.3" text-anchor="middle" fill="#222" stroke="#222" stroke-width="0.18">As</text>
<line x1="218.68" y1="151.20" x2="218.68" y2="153.20" stroke="#808080" stroke-width="0.9"/>
<line x1="239.44" y1="151.20" x2="239.44" y2="153.20" stroke="#808080" stroke-width="0.9"/>
<line x1="260.21" y1="151.20" x2="260.21" y2="153.20" stroke="#808080" stroke-width="0.9"/>
<line x1="280.97" y1="151.20" x2="280.97" y2="153.20" stroke="#808080" stroke-width="0.9"/>
<text x="250.40" y="164.50" font-size="10.3" text-anchor="middle" fill="#222" stroke="#222" stroke-width="0.18">Co</text>
<line x1="301.73" y1="151.20" x2="301.73" y2="153.20" stroke="#808080" stroke-width="0.9"/>
<line x1="322.49" y1="151.20" x2="322.49" y2="153.20" stroke="#808080" stroke-width="0.9"/>
<line x1="343.26" y1="151.20" x2="343.26" y2="153.20" stroke="#808080" stroke-width="0.9"/>
<line x1="364.02" y1="151.20" x2="364.02" y2="153.20" stroke="#808080" stroke-width="0.9"/>
<text x="331.70" y="164.50" font-size="10.3" text-anchor="middle" fill="#222" stroke="#222" stroke-width="0.18">Ni</text>
<line x1="384.78" y1="151.20" x2="384.78" y2="153.20" stroke="#808080" stroke-width="0.9"/>
<line x1="405.54" y1="151.20" x2="405.54" y2="153.20" stroke="#808080" stroke-width="0.9"/>
<line x1="426.31" y1="151.20" x2="426.31" y2="153.20" stroke="#808080" stroke-width="0.9"/>
<line x1="447.07" y1="151.20" x2="447.07" y2="153.20" stroke="#808080" stroke-width="0.9"/>
<text x="416.80" y="164.50" font-size="10.3" text-anchor="middle" fill="#222" stroke="#222" stroke-width="0.18">Cu</text>
<line x1="467.83" y1="151.20" x2="467.83" y2="153.20" stroke="#808080" stroke-width="0.9"/>
<line x1="488.59" y1="151.20" x2="488.59" y2="153.20" stroke="#808080" stroke-width="0.9"/>
<line x1="509.36" y1="151.20" x2="509.36" y2="153.20" stroke="#808080" stroke-width="0.9"/>
<line x1="530.12" y1="151.20" x2="530.12" y2="153.20" stroke="#808080" stroke-width="0.9"/>
<text x="502.20" y="164.50" font-size="10.3" text-anchor="middle" fill="#222" stroke="#222" stroke-width="0.18">Cd</text>
<line x1="39.60" y1="11.00" x2="42.20" y2="11.00" stroke="#808080" stroke-width="0.9"/>
<text x="32.50" y="14.40" font-size="9.0" text-anchor="end" fill="#3a3a3a" stroke="#3a3a3a" stroke-width="0.18">10</text>
<text x="33.10" y="10.20" font-size="4.7" fill="#666" stroke="#666" stroke-width="0.18">5</text>
<line x1="39.60" y1="31.03" x2="42.20" y2="31.03" stroke="#808080" stroke-width="0.9"/>
<text x="32.50" y="34.53" font-size="9.0" text-anchor="end" fill="#3a3a3a" stroke="#3a3a3a" stroke-width="0.18">10</text>
<text x="33.10" y="30.33" font-size="4.7" fill="#666" stroke="#666" stroke-width="0.18">4</text>
<line x1="39.60" y1="51.06" x2="42.20" y2="51.06" stroke="#808080" stroke-width="0.9"/>
<text x="32.50" y="54.66" font-size="9.0" text-anchor="end" fill="#3a3a3a" stroke="#3a3a3a" stroke-width="0.18">10</text>
<text x="33.10" y="50.46" font-size="4.7" fill="#666" stroke="#666" stroke-width="0.18">3</text>
<line x1="39.60" y1="71.09" x2="42.20" y2="71.09" stroke="#808080" stroke-width="0.9"/>
<text x="32.50" y="74.89" font-size="9.0" text-anchor="end" fill="#3a3a3a" stroke="#3a3a3a" stroke-width="0.18">10</text>
<text x="33.10" y="70.69" font-size="4.7" fill="#666" stroke="#666" stroke-width="0.18">2</text>
<line x1="39.60" y1="91.11" x2="42.20" y2="91.11" stroke="#808080" stroke-width="0.9"/>
<text x="32.50" y="95.21" font-size="9.0" text-anchor="end" fill="#3a3a3a" stroke="#3a3a3a" stroke-width="0.18">10</text>
<text x="33.10" y="91.01" font-size="4.7" fill="#666" stroke="#666" stroke-width="0.18">1</text>
<line x1="39.60" y1="111.14" x2="42.20" y2="111.14" stroke="#808080" stroke-width="0.9"/>
<text x="32.50" y="116.74" font-size="9.0" text-anchor="end" fill="#3a3a3a" stroke="#3a3a3a" stroke-width="0.18">10</text>
<text x="33.10" y="112.54" font-size="4.7" fill="#666" stroke="#666" stroke-width="0.18">0</text>
<line x1="39.60" y1="131.17" x2="42.20" y2="131.17" stroke="#808080" stroke-width="0.9"/>
<text x="32.50" y="136.87" font-size="9.0" text-anchor="end" fill="#3a3a3a" stroke="#3a3a3a" stroke-width="0.18">10</text>
<text x="33.10" y="132.67" font-size="4.7" fill="#666" stroke="#666" stroke-width="0.18">-1</text>
<line x1="39.60" y1="151.20" x2="42.20" y2="151.20" stroke="#808080" stroke-width="0.9"/>
<text x="32.50" y="155.40" font-size="9.0" text-anchor="end" fill="#3a3a3a" stroke="#3a3a3a" stroke-width="0.18">10</text>
<text x="33.10" y="151.20" font-size="4.7" fill="#666" stroke="#666" stroke-width="0.18">-2</text>
<text transform="translate(13.9 81.80) rotate(-90)" font-size="10.6" text-anchor="middle" fill="#222" stroke="#222" stroke-width="0.18">PPM</text>
<line x1="52.45" y1="279.50" x2="52.45" y2="303.80" stroke="#7d8a90" stroke-width="1"/>
<rect x="45.70" y="267.90" width="13.50" height="11.60" fill="#7ca4b4" stroke="#56707a" stroke-width="1"/>
<path d="M50.45 303.80L52.45 302.20L54.45 303.80L52.45 305.40Z" fill="#b9ccd4" stroke="#44565e" stroke-width="1.1"/>
<ellipse cx="52.45" cy="260.00" rx="1.6" ry="1.55" fill="#b9ccd4" stroke="#44565e" stroke-width="1"/>
<ellipse cx="52.45" cy="267.90" rx="1.6" ry="1.55" fill="#b9ccd4" stroke="#44565e" stroke-width="1"/>
<ellipse cx="52.45" cy="280.60" rx="1.6" ry="1.55" fill="#b9ccd4" stroke="#44565e" stroke-width="1"/>
<line x1="73.40" y1="290.00" x2="73.40" y2="290.50" stroke="#8a8684" stroke-width="1"/>
<line x1="73.40" y1="298.30" x2="73.40" y2="307.40" stroke="#8a8684" stroke-width="1"/>
<rect x="66.65" y="290.50" width="13.50" height="7.80" fill="#c7c2bf" stroke="#6e6b69" stroke-width="1"/>
<line x1="66.65" y1="294.00" x2="80.15" y2="294.00" stroke="#6e6b69" stroke-width="1"/>
<ellipse cx="73.40" cy="290.00" rx="1.6" ry="1.55" fill="#dedad8" stroke="#58534f" stroke-width="1"/>
<path d="M71.40 307.40L73.40 305.80L75.40 307.40L73.40 309.00Z" fill="#dedad8" stroke="#58534f" stroke-width="1.1"/>
<ellipse cx="73.40" cy="279.20" rx="1.6" ry="1.55" fill="#dedad8" stroke="#58534f" stroke-width="1"/>
<ellipse cx="73.40" cy="299.20" rx="1.6" ry="1.55" fill="#dedad8" stroke="#58534f" stroke-width="1"/>
<line x1="93.95" y1="282.80" x2="93.95" y2="284.60" stroke="#7a7f8e" stroke-width="1"/>
<line x1="93.95" y1="294.20" x2="93.95" y2="296.50" stroke="#7a7f8e" stroke-width="1"/>
<rect x="87.20" y="284.60" width="13.50" height="9.60" fill="#4a5780" stroke="#323c5e" stroke-width="1"/>
<line x1="87.20" y1="289.50" x2="100.70" y2="289.50" stroke="#2e385a" stroke-width="1"/>
<path d="M91.95 282.80L93.95 281.20L95.95 282.80L93.95 284.40Z" fill="#465380" stroke="#2c3657" stroke-width="1.1"/>
<path d="M91.95 296.50L93.95 294.90L95.95 296.50L93.95 298.10Z" fill="#465380" stroke="#2c3657" stroke-width="1.1"/>
<ellipse cx="93.95" cy="269.70" rx="1.6" ry="1.55" fill="#465380" stroke="#2c3657" stroke-width="1"/>
<line x1="114.70" y1="297.00" x2="114.70" y2="304.70" stroke="#9a8a78" stroke-width="1"/>
<rect x="107.95" y="279.20" width="13.50" height="17.80" fill="#f5a536" stroke="#b47b3a" stroke-width="1"/>
<line x1="107.95" y1="286.50" x2="121.45" y2="286.50" stroke="#b47b3a" stroke-width="1"/>
<path d="M112.70 304.70L114.70 303.10L116.70 304.70L114.70 306.30Z" fill="#f2a83f" stroke="#a8701f" stroke-width="1.1"/>
<ellipse cx="114.70" cy="278.80" rx="1.6" ry="1.55" fill="#f2a83f" stroke="#a8701f" stroke-width="1"/>
<ellipse cx="114.70" cy="297.40" rx="1.6" ry="1.55" fill="#f2a83f" stroke="#a8701f" stroke-width="1"/>
<line x1="134.80" y1="254.60" x2="134.80" y2="256.00" stroke="#7d8a90" stroke-width="1"/>
<line x1="134.80" y1="304.30" x2="134.80" y2="313.60" stroke="#7d8a90" stroke-width="1"/>
<rect x="128.05" y="256.00" width="13.50" height="48.30" fill="#7ca4b4" stroke="#56707a" stroke-width="1"/>
<line x1="128.05" y1="262.80" x2="141.55" y2="262.80" stroke="#56707a" stroke-width="1"/>
<ellipse cx="134.80" cy="254.60" rx="1.6" ry="1.55" fill="#b9ccd4" stroke="#44565e" stroke-width="1"/>
<path d="M132.80 313.60L134.80 312.00L136.80 313.60L134.80 315.20Z" fill="#b9ccd4" stroke="#44565e" stroke-width="1.1"/>
<line x1="155.60" y1="301.40" x2="155.60" y2="313.60" stroke="#8a8684" stroke-width="1"/>
<rect x="148.85" y="262.40" width="13.50" height="39.00" fill="#c7c2bf" stroke="#6e6b69" stroke-width="1"/>
<line x1="148.85" y1="271.50" x2="162.35" y2="271.50" stroke="#6e6b69" stroke-width="1"/>
<path d="M153.60 313.60L155.60 312.00L157.60 313.60L155.60 315.20Z" fill="#dedad8" stroke="#58534f" stroke-width="1.1"/>
<ellipse cx="155.60" cy="247.30" rx="1.6" ry="1.55" fill="#dedad8" stroke="#58534f" stroke-width="1"/>
<ellipse cx="155.60" cy="261.30" rx="1.6" ry="1.55" fill="#dedad8" stroke="#58534f" stroke-width="1"/>
<ellipse cx="155.60" cy="307.40" rx="1.6" ry="1.55" fill="#dedad8" stroke="#58534f" stroke-width="1"/>
<line x1="176.65" y1="252.80" x2="176.65" y2="256.40" stroke="#7a7f8e" stroke-width="1"/>
<line x1="176.65" y1="289.70" x2="176.65" y2="313.40" stroke="#7a7f8e" stroke-width="1"/>
<rect x="169.90" y="256.40" width="13.50" height="33.30" fill="#4a5780" stroke="#323c5e" stroke-width="1"/>
<line x1="169.90" y1="268.30" x2="183.40" y2="268.30" stroke="#2e385a" stroke-width="1"/>
<path d="M174.65 252.80L176.65 251.20L178.65 252.80L176.65 254.40Z" fill="#465380" stroke="#2c3657" stroke-width="1.1"/>
<path d="M174.65 313.40L176.65 311.80L178.65 313.40L176.65 315.00Z" fill="#465380" stroke="#2c3657" stroke-width="1.1"/>
<ellipse cx="176.65" cy="246.40" rx="1.6" ry="1.55" fill="#465380" stroke="#2c3657" stroke-width="1"/>
<ellipse cx="176.65" cy="248.20" rx="1.6" ry="1.55" fill="#465380" stroke="#2c3657" stroke-width="1"/>
<ellipse cx="176.65" cy="289.70" rx="1.6" ry="1.55" fill="#465380" stroke="#2c3657" stroke-width="1"/>
<ellipse cx="176.65" cy="304.30" rx="1.6" ry="1.55" fill="#465380" stroke="#2c3657" stroke-width="1"/>
<line x1="197.70" y1="308.00" x2="197.70" y2="313.60" stroke="#9a8a78" stroke-width="1"/>
<rect x="190.95" y="252.20" width="13.50" height="55.80" fill="#f5a536" stroke="#b47b3a" stroke-width="1"/>
<line x1="190.95" y1="264.20" x2="204.45" y2="264.20" stroke="#b47b3a" stroke-width="1"/>
<path d="M195.70 313.60L197.70 312.00L199.70 313.60L197.70 315.20Z" fill="#f2a83f" stroke="#a8701f" stroke-width="1.1"/>
<ellipse cx="197.70" cy="235.80" rx="1.6" ry="1.55" fill="#f2a83f" stroke="#a8701f" stroke-width="1"/>
<ellipse cx="197.70" cy="252.20" rx="1.6" ry="1.55" fill="#f2a83f" stroke="#a8701f" stroke-width="1"/>
<line x1="218.75" y1="298.10" x2="218.75" y2="312.00" stroke="#7d8a90" stroke-width="1"/>
<rect x="212.00" y="253.80" width="13.50" height="44.30" fill="#7ca4b4" stroke="#56707a" stroke-width="1"/>
<line x1="212.00" y1="265.30" x2="225.50" y2="265.30" stroke="#56707a" stroke-width="1"/>
<path d="M216.75 312.00L218.75 310.40L220.75 312.00L218.75 313.60Z" fill="#b9ccd4" stroke="#44565e" stroke-width="1.1"/>
<ellipse cx="218.75" cy="250.90" rx="1.6" ry="1.55" fill="#b9ccd4" stroke="#44565e" stroke-width="1"/>
<ellipse cx="218.75" cy="253.00" rx="1.6" ry="1.55" fill="#b9ccd4" stroke="#44565e" stroke-width="1"/>
<line x1="239.85" y1="299.70" x2="239.85" y2="305.00" stroke="#8a8684" stroke-width="1"/>
<rect x="233.10" y="255.10" width="13.50" height="44.60" fill="#c7c2bf" stroke="#6e6b69" stroke-width="1"/>
<line x1="233.10" y1="296.30" x2="246.60" y2="296.30" stroke="#6e6b69" stroke-width="1"/>
<path d="M237.85 305.00L239.85 303.40L241.85 305.00L239.85 306.60Z" fill="#dedad8" stroke="#58534f" stroke-width="1.1"/>
<ellipse cx="239.85" cy="222.80" rx="1.6" ry="1.55" fill="#dedad8" stroke="#58534f" stroke-width="1"/>
<ellipse cx="239.85" cy="246.40" rx="1.6" ry="1.55" fill="#dedad8" stroke="#58534f" stroke-width="1"/>
<ellipse cx="239.85" cy="253.50" rx="1.6" ry="1.55" fill="#dedad8" stroke="#58534f" stroke-width="1"/>
<ellipse cx="239.85" cy="302.30" rx="1.6" ry="1.55" fill="#dedad8" stroke="#58534f" stroke-width="1"/>
<rect x="252.70" y="241.70" width="13.50" height="52.00" fill="#4a5780" stroke="#323c5e" stroke-width="1"/>
<ellipse cx="259.45" cy="204.40" rx="1.6" ry="1.55" fill="#465380" stroke="#2c3657" stroke-width="1"/>
<ellipse cx="259.45" cy="221.00" rx="1.6" ry="1.55" fill="#465380" stroke="#2c3657" stroke-width="1"/>
<ellipse cx="259.45" cy="231.20" rx="1.6" ry="1.55" fill="#465380" stroke="#2c3657" stroke-width="1"/>
<ellipse cx="259.45" cy="238.00" rx="1.6" ry="1.55" fill="#465380" stroke="#2c3657" stroke-width="1"/>
<ellipse cx="259.45" cy="295.50" rx="1.6" ry="1.55" fill="#465380" stroke="#2c3657" stroke-width="1"/>
<ellipse cx="259.45" cy="301.50" rx="1.6" ry="1.55" fill="#465380" stroke="#2c3657" stroke-width="1"/>
<ellipse cx="259.45" cy="308.10" rx="1.6" ry="1.55" fill="#465380" stroke="#2c3657" stroke-width="1"/>
<line x1="280.15" y1="260.90" x2="280.15" y2="266.10" stroke="#9a8a78" stroke-width="1"/>
<line x1="280.15" y1="299.70" x2="280.15" y2="308.00" stroke="#9a8a78" stroke-width="1"/>
<rect x="273.40" y="266.10" width="13.50" height="33.60" fill="#f5a536" stroke="#b47b3a" stroke-width="1"/>
<line x1="273.40" y1="270.80" x2="286.90" y2="270.80" stroke="#b47b3a" stroke-width="1"/>
<path d="M278.15 260.90L280.15 259.30L282.15 260.90L280.15 262.50Z" fill="#f2a83f" stroke="#a8701f" stroke-width="1.1"/>
<ellipse cx="280.15" cy="308.00" rx="1.6" ry="1.55" fill="#f2a83f" stroke="#a8701f" stroke-width="1"/>
<ellipse cx="280.15" cy="247.70" rx="1.6" ry="1.55" fill="#f2a83f" stroke="#a8701f" stroke-width="1"/>
<ellipse cx="280.15" cy="264.00" rx="1.6" ry="1.55" fill="#f2a83f" stroke="#a8701f" stroke-width="1"/>
<ellipse cx="280.15" cy="304.70" rx="1.6" ry="1.55" fill="#f2a83f" stroke="#a8701f" stroke-width="1"/>
<rect x="294.35" y="307.50" width="13.50" height="6.10" fill="#7ca4b4" stroke="#56707a" stroke-width="1"/>
<rect x="315.35" y="288.10" width="13.50" height="25.50" fill="#c7c2bf" stroke="#6e6b69" stroke-width="1"/>
<line x1="315.35" y1="307.30" x2="328.85" y2="307.30" stroke="#6e6b69" stroke-width="1"/>
<line x1="342.30" y1="301.40" x2="342.30" y2="303.40" stroke="#7a7f8e" stroke-width="1"/>
<rect x="335.55" y="303.40" width="13.50" height="10.20" fill="#4a5780" stroke="#323c5e" stroke-width="1"/>
<path d="M340.30 301.40L342.30 299.80L344.30 301.40L342.30 303.00Z" fill="#465380" stroke="#2c3657" stroke-width="1.1"/>
<ellipse cx="342.30" cy="295.80" rx="1.6" ry="1.55" fill="#465380" stroke="#2c3657" stroke-width="1"/>
<path d="M360.70 313.50L362.70 311.90L364.70 313.50L362.70 315.10Z" fill="#f2a83f" stroke="#a8701f" stroke-width="1.1"/>
<line x1="385.15" y1="288.90" x2="385.15" y2="291.50" stroke="#7d8a90" stroke-width="1"/>
<rect x="378.40" y="291.50" width="13.50" height="9.80" fill="#7ca4b4" stroke="#56707a" stroke-width="1"/>
<path d="M383.15 288.90L385.15 287.30L387.15 288.90L385.15 290.50Z" fill="#b9ccd4" stroke="#44565e" stroke-width="1.1"/>
<ellipse cx="385.15" cy="301.30" rx="1.6" ry="1.55" fill="#b9ccd4" stroke="#44565e" stroke-width="1"/>
<line x1="405.90" y1="284.00" x2="405.90" y2="287.00" stroke="#8a8684" stroke-width="1"/>
<line x1="405.90" y1="294.50" x2="405.90" y2="301.30" stroke="#8a8684" stroke-width="1"/>
<rect x="399.15" y="287.00" width="13.50" height="7.50" fill="#c7c2bf" stroke="#6e6b69" stroke-width="1"/>
<line x1="399.15" y1="290.40" x2="412.65" y2="290.40" stroke="#6e6b69" stroke-width="1"/>
<ellipse cx="405.90" cy="284.00" rx="1.6" ry="1.55" fill="#dedad8" stroke="#58534f" stroke-width="1"/>
<ellipse cx="405.90" cy="301.30" rx="1.6" ry="1.55" fill="#dedad8" stroke="#58534f" stroke-width="1"/>
<ellipse cx="405.90" cy="285.40" rx="1.6" ry="1.55" fill="#dedad8" stroke="#58534f" stroke-width="1"/>
<ellipse cx="405.90" cy="296.80" rx="1.6" ry="1.55" fill="#dedad8" stroke="#58534f" stroke-width="1"/>
<rect x="423.80" y="284.5" width="3" height="18.2" rx="1.2" fill="#4a5780" stroke="#323c5e" stroke-width="0.6"/>
<rect x="418.55" y="291.40" width="13.50" height="4.10" fill="#4a5780" stroke="#323c5e" stroke-width="1"/>
<ellipse cx="425.30" cy="307.30" rx="1.6" ry="1.55" fill="#465380" stroke="#2c3657" stroke-width="1"/>
<line x1="446.20" y1="281.20" x2="446.20" y2="285.40" stroke="#9a8a78" stroke-width="1"/>
<line x1="446.20" y1="290.70" x2="446.20" y2="301.30" stroke="#9a8a78" stroke-width="1"/>
<rect x="439.45" y="285.40" width="13.50" height="5.30" fill="#f5a536" stroke="#b47b3a" stroke-width="1"/>
<line x1="439.45" y1="287.70" x2="452.95" y2="287.70" stroke="#b47b3a" stroke-width="1"/>
<path d="M444.20 281.20L446.20 279.60L448.20 281.20L446.20 282.80Z" fill="#f2a83f" stroke="#a8701f" stroke-width="1.1"/>
<path d="M444.20 301.30L446.20 299.70L448.20 301.30L446.20 302.90Z" fill="#f2a83f" stroke="#a8701f" stroke-width="1.1"/>
<ellipse cx="446.20" cy="270.70" rx="1.6" ry="1.55" fill="#f2a83f" stroke="#a8701f" stroke-width="1"/>
<ellipse cx="446.20" cy="295.30" rx="1.6" ry="1.55" fill="#f2a83f" stroke="#a8701f" stroke-width="1"/>
<path d="M466.00 312.90L468.00 311.30L470.00 312.90L468.00 314.50Z" fill="#b9ccd4" stroke="#44565e" stroke-width="1.1"/>
<ellipse cx="488.80" cy="290.50" rx="1.6" ry="1.55" fill="#dedad8" stroke="#58534f" stroke-width="1"/>
<path d="M486.80 312.90L488.80 311.30L490.80 312.90L488.80 314.50Z" fill="#dedad8" stroke="#58534f" stroke-width="1.1"/>
<line x1="508.75" y1="277.50" x2="508.75" y2="282.80" stroke="#7a7f8e" stroke-width="1"/>
<rect x="502.00" y="282.80" width="13.50" height="30.80" fill="#4a5780" stroke="#323c5e" stroke-width="1"/>
<line x1="502.00" y1="310.30" x2="515.50" y2="310.30" stroke="#2e385a" stroke-width="1"/>
<path d="M506.75 277.50L508.75 275.90L510.75 277.50L508.75 279.10Z" fill="#465380" stroke="#2c3657" stroke-width="1.1"/>
<ellipse cx="508.75" cy="259.20" rx="1.6" ry="1.55" fill="#465380" stroke="#2c3657" stroke-width="1"/>
<line x1="529.55" y1="295.40" x2="529.55" y2="295.40" stroke="#9a8a78" stroke-width="1"/>
<rect x="522.80" y="295.40" width="13.50" height="18.20" fill="#f5a536" stroke="#b47b3a" stroke-width="1"/>
<line x1="522.80" y1="300.10" x2="536.30" y2="300.10" stroke="#b47b3a" stroke-width="1"/>
<path d="M527.55 295.40L529.55 293.80L531.55 295.40L529.55 297.00Z" fill="#f2a83f" stroke="#a8701f" stroke-width="1.1"/>
<rect x="41.30" y="173.40" width="498.30" height="140.20" fill="none" stroke="#808080" stroke-width="1.1"/>
<line x1="124.35" y1="173.40" x2="124.35" y2="313.60" stroke="#808080" stroke-width="1.1"/>
<line x1="207.40" y1="173.40" x2="207.40" y2="313.60" stroke="#808080" stroke-width="1.1"/>
<line x1="290.45" y1="173.40" x2="290.45" y2="313.60" stroke="#808080" stroke-width="1.1"/>
<line x1="373.50" y1="173.40" x2="373.50" y2="313.60" stroke="#808080" stroke-width="1.1"/>
<line x1="456.55" y1="173.40" x2="456.55" y2="313.60" stroke="#808080" stroke-width="1.1"/>
<line x1="51.68" y1="313.60" x2="51.68" y2="315.60" stroke="#808080" stroke-width="0.9"/>
<line x1="72.44" y1="313.60" x2="72.44" y2="315.60" stroke="#808080" stroke-width="0.9"/>
<line x1="93.21" y1="313.60" x2="93.21" y2="315.60" stroke="#808080" stroke-width="0.9"/>
<line x1="113.97" y1="313.60" x2="113.97" y2="315.60" stroke="#808080" stroke-width="0.9"/>
<text x="82.20" y="326.90" font-size="10.3" text-anchor="middle" fill="#222" stroke="#222" stroke-width="0.18">Ag</text>
<line x1="134.73" y1="313.60" x2="134.73" y2="315.60" stroke="#808080" stroke-width="0.9"/>
<line x1="155.49" y1="313.60" x2="155.49" y2="315.60" stroke="#808080" stroke-width="0.9"/>
<line x1="176.26" y1="313.60" x2="176.26" y2="315.60" stroke="#808080" stroke-width="0.9"/>
<line x1="197.02" y1="313.60" x2="197.02" y2="315.60" stroke="#808080" stroke-width="0.9"/>
<text x="167.60" y="326.90" font-size="10.3" text-anchor="middle" fill="#222" stroke="#222" stroke-width="0.18">Sb</text>
<line x1="217.78" y1="313.60" x2="217.78" y2="315.60" stroke="#808080" stroke-width="0.9"/>
<line x1="238.54" y1="313.60" x2="238.54" y2="315.60" stroke="#808080" stroke-width="0.9"/>
<line x1="259.31" y1="313.60" x2="259.31" y2="315.60" stroke="#808080" stroke-width="0.9"/>
<line x1="280.07" y1="313.60" x2="280.07" y2="315.60" stroke="#808080" stroke-width="0.9"/>
<text x="251.10" y="326.90" font-size="10.3" text-anchor="middle" fill="#222" stroke="#222" stroke-width="0.18">Pb</text>
<line x1="300.83" y1="313.60" x2="300.83" y2="315.60" stroke="#808080" stroke-width="0.9"/>
<line x1="321.59" y1="313.60" x2="321.59" y2="315.60" stroke="#808080" stroke-width="0.9"/>
<line x1="342.36" y1="313.60" x2="342.36" y2="315.60" stroke="#808080" stroke-width="0.9"/>
<line x1="363.12" y1="313.60" x2="363.12" y2="315.60" stroke="#808080" stroke-width="0.9"/>
<text x="330.10" y="326.90" font-size="10.3" text-anchor="middle" fill="#222" stroke="#222" stroke-width="0.18">Tl</text>
<line x1="383.88" y1="313.60" x2="383.88" y2="315.60" stroke="#808080" stroke-width="0.9"/>
<line x1="404.64" y1="313.60" x2="404.64" y2="315.60" stroke="#808080" stroke-width="0.9"/>
<line x1="425.41" y1="313.60" x2="425.41" y2="315.60" stroke="#808080" stroke-width="0.9"/>
<line x1="446.17" y1="313.60" x2="446.17" y2="315.60" stroke="#808080" stroke-width="0.9"/>
<text x="413.90" y="326.90" font-size="10.3" text-anchor="middle" fill="#222" stroke="#222" stroke-width="0.18">Mo</text>
<line x1="466.93" y1="313.60" x2="466.93" y2="315.60" stroke="#808080" stroke-width="0.9"/>
<line x1="487.69" y1="313.60" x2="487.69" y2="315.60" stroke="#808080" stroke-width="0.9"/>
<line x1="508.46" y1="313.60" x2="508.46" y2="315.60" stroke="#808080" stroke-width="0.9"/>
<line x1="529.22" y1="313.60" x2="529.22" y2="315.60" stroke="#808080" stroke-width="0.9"/>
<text x="501.00" y="326.90" font-size="10.3" text-anchor="middle" fill="#222" stroke="#222" stroke-width="0.18">Bi</text>
<line x1="38.70" y1="173.40" x2="41.30" y2="173.40" stroke="#808080" stroke-width="0.9"/>
<text x="32.50" y="178.00" font-size="9.0" text-anchor="end" fill="#3a3a3a" stroke="#3a3a3a" stroke-width="0.18">10</text>
<text x="33.10" y="173.80" font-size="4.7" fill="#666" stroke="#666" stroke-width="0.18">5</text>
<line x1="38.70" y1="193.43" x2="41.30" y2="193.43" stroke="#808080" stroke-width="0.9"/>
<text x="32.50" y="198.83" font-size="9.0" text-anchor="end" fill="#3a3a3a" stroke="#3a3a3a" stroke-width="0.18">10</text>
<text x="33.10" y="194.63" font-size="4.7" fill="#666" stroke="#666" stroke-width="0.18">4</text>
<line x1="38.70" y1="213.46" x2="41.30" y2="213.46" stroke="#808080" stroke-width="0.9"/>
<text x="32.50" y="218.86" font-size="9.0" text-anchor="end" fill="#3a3a3a" stroke="#3a3a3a" stroke-width="0.18">10</text>
<text x="33.10" y="214.66" font-size="4.7" fill="#666" stroke="#666" stroke-width="0.18">3</text>
<line x1="38.70" y1="233.49" x2="41.30" y2="233.49" stroke="#808080" stroke-width="0.9"/>
<text x="32.50" y="238.69" font-size="9.0" text-anchor="end" fill="#3a3a3a" stroke="#3a3a3a" stroke-width="0.18">10</text>
<text x="33.10" y="234.49" font-size="4.7" fill="#666" stroke="#666" stroke-width="0.18">2</text>
<line x1="38.70" y1="253.51" x2="41.30" y2="253.51" stroke="#808080" stroke-width="0.9"/>
<text x="32.50" y="258.91" font-size="9.0" text-anchor="end" fill="#3a3a3a" stroke="#3a3a3a" stroke-width="0.18">10</text>
<text x="33.10" y="254.71" font-size="4.7" fill="#666" stroke="#666" stroke-width="0.18">1</text>
<line x1="38.70" y1="273.54" x2="41.30" y2="273.54" stroke="#808080" stroke-width="0.9"/>
<text x="32.50" y="280.64" font-size="9.0" text-anchor="end" fill="#3a3a3a" stroke="#3a3a3a" stroke-width="0.18">10</text>
<text x="33.10" y="276.44" font-size="4.7" fill="#666" stroke="#666" stroke-width="0.18">0</text>
<line x1="38.70" y1="293.57" x2="41.30" y2="293.57" stroke="#808080" stroke-width="0.9"/>
<text x="32.50" y="300.87" font-size="9.0" text-anchor="end" fill="#3a3a3a" stroke="#3a3a3a" stroke-width="0.18">10</text>
<text x="33.10" y="296.67" font-size="4.7" fill="#666" stroke="#666" stroke-width="0.18">-1</text>
<line x1="38.70" y1="313.60" x2="41.30" y2="313.60" stroke="#808080" stroke-width="0.9"/>
<text x="32.50" y="318.80" font-size="9.0" text-anchor="end" fill="#3a3a3a" stroke="#3a3a3a" stroke-width="0.18">10</text>
<text x="33.10" y="314.60" font-size="4.7" fill="#666" stroke="#666" stroke-width="0.18">-2</text>
<text transform="translate(13.9 243.50) rotate(-90)" font-size="10.6" text-anchor="middle" fill="#222" stroke="#222" stroke-width="0.18">PPM</text>
<line x1="52.60" y1="336.60" x2="52.60" y2="344.00" stroke="#7d8a90" stroke-width="1"/>
<line x1="52.60" y1="436.90" x2="52.60" y2="437.90" stroke="#7d8a90" stroke-width="1"/>
<rect x="45.85" y="344.00" width="13.50" height="92.90" fill="#7ca4b4" stroke="#56707a" stroke-width="1"/>
<line x1="45.85" y1="429.60" x2="59.35" y2="429.60" stroke="#56707a" stroke-width="1"/>
<path d="M49.70 335.60L55.50 335.60L52.60 338.80Z" fill="#44565e" stroke="#44565e" stroke-width="0.8"/>
<ellipse cx="52.60" cy="336.50" rx="0.9" ry="0.8" fill="#b9ccd4"/>
<ellipse cx="52.60" cy="437.90" rx="1.6" ry="1.55" fill="#b9ccd4" stroke="#44565e" stroke-width="1"/>
<ellipse cx="52.60" cy="343.20" rx="1.6" ry="1.55" fill="#b9ccd4" stroke="#44565e" stroke-width="1"/>
<line x1="73.05" y1="428.90" x2="73.05" y2="433.40" stroke="#8a8684" stroke-width="1"/>
<line x1="73.05" y1="437.90" x2="73.05" y2="443.20" stroke="#8a8684" stroke-width="1"/>
<rect x="66.30" y="433.40" width="13.50" height="4.50" fill="#c7c2bf" stroke="#6e6b69" stroke-width="1"/>
<line x1="66.30" y1="435.60" x2="79.80" y2="435.60" stroke="#6e6b69" stroke-width="1"/>
<path d="M71.05 428.90L73.05 427.30L75.05 428.90L73.05 430.50Z" fill="#dedad8" stroke="#58534f" stroke-width="1.1"/>
<path d="M71.05 443.20L73.05 441.60L75.05 443.20L73.05 444.80Z" fill="#dedad8" stroke="#58534f" stroke-width="1.1"/>
<ellipse cx="73.05" cy="420.30" rx="1.6" ry="1.55" fill="#dedad8" stroke="#58534f" stroke-width="1"/>
<line x1="93.90" y1="425.10" x2="93.90" y2="429.60" stroke="#7a7f8e" stroke-width="1"/>
<line x1="93.90" y1="437.90" x2="93.90" y2="446.20" stroke="#7a7f8e" stroke-width="1"/>
<rect x="87.15" y="429.60" width="13.50" height="8.30" fill="#4a5780" stroke="#323c5e" stroke-width="1"/>
<path d="M91.90 425.10L93.90 423.50L95.90 425.10L93.90 426.70Z" fill="#465380" stroke="#2c3657" stroke-width="1.1"/>
<path d="M91.90 446.20L93.90 444.60L95.90 446.20L93.90 447.80Z" fill="#465380" stroke="#2c3657" stroke-width="1.1"/>
<ellipse cx="93.90" cy="416.00" rx="1.6" ry="1.55" fill="#465380" stroke="#2c3657" stroke-width="1"/>
<line x1="114.90" y1="441.70" x2="114.90" y2="447.00" stroke="#9a8a78" stroke-width="1"/>
<rect x="108.15" y="437.50" width="13.50" height="4.20" fill="#f5a536" stroke="#b47b3a" stroke-width="1"/>
<line x1="108.15" y1="439.40" x2="121.65" y2="439.40" stroke="#b47b3a" stroke-width="1"/>
<path d="M112.90 447.00L114.90 445.40L116.90 447.00L114.90 448.60Z" fill="#f2a83f" stroke="#a8701f" stroke-width="1.1"/>
<ellipse cx="114.90" cy="429.60" rx="1.6" ry="1.55" fill="#f2a83f" stroke="#a8701f" stroke-width="1"/>
<ellipse cx="114.90" cy="436.00" rx="1.6" ry="1.55" fill="#f2a83f" stroke="#a8701f" stroke-width="1"/>
<line x1="134.60" y1="395.60" x2="134.60" y2="403.20" stroke="#7d8a90" stroke-width="1"/>
<rect x="127.85" y="403.20" width="13.50" height="72.80" fill="#7ca4b4" stroke="#56707a" stroke-width="1"/>
<line x1="127.85" y1="455.40" x2="141.35" y2="455.40" stroke="#56707a" stroke-width="1"/>
<path d="M131.70 394.60L137.50 394.60L134.60 397.80Z" fill="#44565e" stroke="#44565e" stroke-width="0.8"/>
<ellipse cx="134.60" cy="395.50" rx="0.9" ry="0.8" fill="#b9ccd4"/>
<ellipse cx="155.70" cy="476.00" rx="1.6" ry="1.55" fill="#dedad8" stroke="#58534f" stroke-width="1"/>
<ellipse cx="175.50" cy="466.50" rx="1.6" ry="1.55" fill="#465380" stroke="#2c3657" stroke-width="1"/>
<ellipse cx="175.50" cy="476.00" rx="1.6" ry="1.55" fill="#465380" stroke="#2c3657" stroke-width="1"/>
<rect x="190.80" y="470.90" width="13.50" height="5.10" fill="#f5a536" stroke="#b47b3a" stroke-width="1"/>
<ellipse cx="218.10" cy="476.00" rx="1.6" ry="1.55" fill="#b9ccd4" stroke="#44565e" stroke-width="1"/>
<ellipse cx="238.70" cy="476.00" rx="1.6" ry="1.55" fill="#dedad8" stroke="#58534f" stroke-width="1"/>
<ellipse cx="258.10" cy="470.50" rx="1.6" ry="1.55" fill="#465380" stroke="#2c3657" stroke-width="1"/>
<ellipse cx="258.10" cy="476.00" rx="1.6" ry="1.55" fill="#465380" stroke="#2c3657" stroke-width="1"/>
<line x1="280.45" y1="390.10" x2="280.45" y2="397.20" stroke="#9a8a78" stroke-width="1"/>
<line x1="280.45" y1="470.50" x2="280.45" y2="476.00" stroke="#9a8a78" stroke-width="1"/>
<rect x="273.70" y="397.20" width="13.50" height="73.30" fill="#f5a536" stroke="#b47b3a" stroke-width="1"/>
<line x1="273.70" y1="463.80" x2="287.20" y2="463.80" stroke="#b47b3a" stroke-width="1"/>
<line x1="277.15" y1="390.10" x2="283.75" y2="390.10" stroke="#a8701f" stroke-width="1.1"/>
<line x1="301.90" y1="395.60" x2="301.90" y2="403.20" stroke="#7d8a90" stroke-width="1"/>
<rect x="295.15" y="403.20" width="13.50" height="72.80" fill="#7ca4b4" stroke="#56707a" stroke-width="1"/>
<line x1="295.15" y1="455.40" x2="308.65" y2="455.40" stroke="#56707a" stroke-width="1"/>
<line x1="298.60" y1="395.60" x2="305.20" y2="395.60" stroke="#44565e" stroke-width="1.1"/>
<ellipse cx="322.30" cy="476.00" rx="1.6" ry="1.55" fill="#dedad8" stroke="#58534f" stroke-width="1"/>
<ellipse cx="341.90" cy="466.90" rx="1.6" ry="1.55" fill="#465380" stroke="#2c3657" stroke-width="1"/>
<ellipse cx="341.90" cy="476.00" rx="1.6" ry="1.55" fill="#465380" stroke="#2c3657" stroke-width="1"/>
<rect x="357.30" y="470.30" width="13.50" height="5.70" fill="#f5a536" stroke="#b47b3a" stroke-width="1"/>
<line x1="386.10" y1="437.40" x2="386.10" y2="441.10" stroke="#7d8a90" stroke-width="1"/>
<rect x="379.35" y="441.10" width="13.50" height="34.90" fill="#7ca4b4" stroke="#56707a" stroke-width="1"/>
<line x1="379.35" y1="466.80" x2="392.85" y2="466.80" stroke="#56707a" stroke-width="1"/>
<line x1="382.80" y1="437.40" x2="389.40" y2="437.40" stroke="#44565e" stroke-width="1.1"/>
<line x1="406.40" y1="462.70" x2="406.40" y2="464.20" stroke="#8a8684" stroke-width="1"/>
<rect x="399.65" y="464.20" width="13.50" height="11.80" fill="#c7c2bf" stroke="#6e6b69" stroke-width="1"/>
<line x1="399.65" y1="470.50" x2="413.15" y2="470.50" stroke="#6e6b69" stroke-width="1"/>
<path d="M404.40 462.70L406.40 461.10L408.40 462.70L406.40 464.30Z" fill="#dedad8" stroke="#58534f" stroke-width="1.1"/>
<ellipse cx="406.40" cy="456.20" rx="1.6" ry="1.55" fill="#dedad8" stroke="#58534f" stroke-width="1"/>
<line x1="425.90" y1="470.50" x2="425.90" y2="476.00" stroke="#7a7f8e" stroke-width="1"/>
<rect x="419.15" y="458.20" width="13.50" height="12.30" fill="#4a5780" stroke="#323c5e" stroke-width="1"/>
<line x1="419.15" y1="464.50" x2="432.65" y2="464.50" stroke="#2e385a" stroke-width="1"/>
<path d="M423.90 476.00L425.90 474.40L427.90 476.00L425.90 477.60Z" fill="#465380" stroke="#2c3657" stroke-width="1.1"/>
<ellipse cx="425.90" cy="449.40" rx="1.6" ry="1.55" fill="#465380" stroke="#2c3657" stroke-width="1"/>
<ellipse cx="425.90" cy="457.00" rx="1.6" ry="1.55" fill="#465380" stroke="#2c3657" stroke-width="1"/>
<line x1="446.65" y1="443.40" x2="446.65" y2="449.40" stroke="#9a8a78" stroke-width="1"/>
<rect x="439.90" y="449.40" width="13.50" height="26.60" fill="#f5a536" stroke="#b47b3a" stroke-width="1"/>
<line x1="439.90" y1="473.10" x2="453.40" y2="473.10" stroke="#b47b3a" stroke-width="1"/>
<line x1="443.35" y1="443.40" x2="449.95" y2="443.40" stroke="#a8701f" stroke-width="1.1"/>
<rect x="41.30" y="335.80" width="415.25" height="140.20" fill="none" stroke="#808080" stroke-width="1.1"/>
<line x1="124.35" y1="335.80" x2="124.35" y2="476.00" stroke="#808080" stroke-width="1.1"/>
<line x1="207.40" y1="335.80" x2="207.40" y2="476.00" stroke="#808080" stroke-width="1.1"/>
<line x1="290.45" y1="335.80" x2="290.45" y2="476.00" stroke="#808080" stroke-width="1.1"/>
<line x1="373.50" y1="335.80" x2="373.50" y2="476.00" stroke="#808080" stroke-width="1.1"/>
<line x1="51.68" y1="476.00" x2="51.68" y2="478.00" stroke="#808080" stroke-width="0.9"/>
<line x1="72.44" y1="476.00" x2="72.44" y2="478.00" stroke="#808080" stroke-width="0.9"/>
<line x1="93.21" y1="476.00" x2="93.21" y2="478.00" stroke="#808080" stroke-width="0.9"/>
<line x1="113.97" y1="476.00" x2="113.97" y2="478.00" stroke="#808080" stroke-width="0.9"/>
<text x="83.45" y="489.30" font-size="10.3" text-anchor="middle" fill="#222" stroke="#222" stroke-width="0.18">Zn</text>
<line x1="134.73" y1="476.00" x2="134.73" y2="478.00" stroke="#808080" stroke-width="0.9"/>
<line x1="155.49" y1="476.00" x2="155.49" y2="478.00" stroke="#808080" stroke-width="0.9"/>
<line x1="176.26" y1="476.00" x2="176.26" y2="478.00" stroke="#808080" stroke-width="0.9"/>
<line x1="197.02" y1="476.00" x2="197.02" y2="478.00" stroke="#808080" stroke-width="0.9"/>
<text x="165.10" y="489.30" font-size="10.3" text-anchor="middle" fill="#222" stroke="#222" stroke-width="0.18">In</text>
<line x1="217.78" y1="476.00" x2="217.78" y2="478.00" stroke="#808080" stroke-width="0.9"/>
<line x1="238.54" y1="476.00" x2="238.54" y2="478.00" stroke="#808080" stroke-width="0.9"/>
<line x1="259.31" y1="476.00" x2="259.31" y2="478.00" stroke="#808080" stroke-width="0.9"/>
<line x1="280.07" y1="476.00" x2="280.07" y2="478.00" stroke="#808080" stroke-width="0.9"/>
<text x="251.10" y="489.30" font-size="10.3" text-anchor="middle" fill="#222" stroke="#222" stroke-width="0.18">W</text>
<line x1="300.83" y1="476.00" x2="300.83" y2="478.00" stroke="#808080" stroke-width="0.9"/>
<line x1="321.59" y1="476.00" x2="321.59" y2="478.00" stroke="#808080" stroke-width="0.9"/>
<line x1="342.36" y1="476.00" x2="342.36" y2="478.00" stroke="#808080" stroke-width="0.9"/>
<line x1="363.12" y1="476.00" x2="363.12" y2="478.00" stroke="#808080" stroke-width="0.9"/>
<text x="333.70" y="489.30" font-size="10.3" text-anchor="middle" fill="#222" stroke="#222" stroke-width="0.18">Te</text>
<line x1="383.88" y1="476.00" x2="383.88" y2="478.00" stroke="#808080" stroke-width="0.9"/>
<line x1="404.64" y1="476.00" x2="404.64" y2="478.00" stroke="#808080" stroke-width="0.9"/>
<line x1="425.41" y1="476.00" x2="425.41" y2="478.00" stroke="#808080" stroke-width="0.9"/>
<line x1="446.17" y1="476.00" x2="446.17" y2="478.00" stroke="#808080" stroke-width="0.9"/>
<text x="415.00" y="489.30" font-size="10.3" text-anchor="middle" fill="#222" stroke="#222" stroke-width="0.18">Au</text>
<line x1="38.70" y1="335.80" x2="41.30" y2="335.80" stroke="#808080" stroke-width="0.9"/>
<text x="32.50" y="340.90" font-size="9.0" text-anchor="end" fill="#3a3a3a" stroke="#3a3a3a" stroke-width="0.18">10</text>
<text x="33.10" y="336.70" font-size="4.7" fill="#666" stroke="#666" stroke-width="0.18">5</text>
<line x1="38.70" y1="355.83" x2="41.30" y2="355.83" stroke="#808080" stroke-width="0.9"/>
<text x="32.50" y="361.13" font-size="9.0" text-anchor="end" fill="#3a3a3a" stroke="#3a3a3a" stroke-width="0.18">10</text>
<text x="33.10" y="356.93" font-size="4.7" fill="#666" stroke="#666" stroke-width="0.18">4</text>
<line x1="38.70" y1="375.86" x2="41.30" y2="375.86" stroke="#808080" stroke-width="0.9"/>
<text x="32.50" y="381.66" font-size="9.0" text-anchor="end" fill="#3a3a3a" stroke="#3a3a3a" stroke-width="0.18">10</text>
<text x="33.10" y="377.46" font-size="4.7" fill="#666" stroke="#666" stroke-width="0.18">3</text>
<line x1="38.70" y1="395.89" x2="41.30" y2="395.89" stroke="#808080" stroke-width="0.9"/>
<text x="32.50" y="401.49" font-size="9.0" text-anchor="end" fill="#3a3a3a" stroke="#3a3a3a" stroke-width="0.18">10</text>
<text x="33.10" y="397.29" font-size="4.7" fill="#666" stroke="#666" stroke-width="0.18">2</text>
<line x1="38.70" y1="415.91" x2="41.30" y2="415.91" stroke="#808080" stroke-width="0.9"/>
<text x="32.50" y="422.11" font-size="9.0" text-anchor="end" fill="#3a3a3a" stroke="#3a3a3a" stroke-width="0.18">10</text>
<text x="33.10" y="417.91" font-size="4.7" fill="#666" stroke="#666" stroke-width="0.18">1</text>
<line x1="38.70" y1="435.94" x2="41.30" y2="435.94" stroke="#808080" stroke-width="0.9"/>
<text x="32.50" y="443.24" font-size="9.0" text-anchor="end" fill="#3a3a3a" stroke="#3a3a3a" stroke-width="0.18">10</text>
<text x="33.10" y="439.04" font-size="4.7" fill="#666" stroke="#666" stroke-width="0.18">0</text>
<line x1="38.70" y1="455.97" x2="41.30" y2="455.97" stroke="#808080" stroke-width="0.9"/>
<text x="32.50" y="463.27" font-size="9.0" text-anchor="end" fill="#3a3a3a" stroke="#3a3a3a" stroke-width="0.18">10</text>
<text x="33.10" y="459.07" font-size="4.7" fill="#666" stroke="#666" stroke-width="0.18">-1</text>
<line x1="38.70" y1="476.00" x2="41.30" y2="476.00" stroke="#808080" stroke-width="0.9"/>
<text x="32.50" y="481.50" font-size="9.0" text-anchor="end" fill="#3a3a3a" stroke="#3a3a3a" stroke-width="0.18">10</text>
<text x="33.10" y="477.30" font-size="4.7" fill="#666" stroke="#666" stroke-width="0.18">-2</text>
<text transform="translate(13.9 408.60) rotate(-90)" font-size="10.6" text-anchor="middle" fill="#222" stroke="#222" stroke-width="0.18">PPM</text>
<line x1="484" y1="338.2" x2="484" y2="352.9" stroke="#7a7a7a" stroke-width="1"/>
<line x1="484" y1="374.5" x2="484" y2="388.1" stroke="#7a7a7a" stroke-width="1"/>
<line x1="481.3" y1="338.2" x2="486.7" y2="338.2" stroke="#7a7a7a" stroke-width="1"/>
<line x1="481.3" y1="388.1" x2="486.7" y2="388.1" stroke="#7a7a7a" stroke-width="1"/>
<rect x="477.2" y="352.9" width="13.6" height="21.6" fill="#fff" stroke="#7a7a7a" stroke-width="1"/>
<line x1="477.2" y1="363.9" x2="490.8" y2="363.9" stroke="#7a7a7a" stroke-width="1"/>
<text x="494.9" y="342.7" font-size="9.9" fill="#333" stroke="#333" stroke-width="0.18">Maximum</text>
<text x="494.9" y="366.8" font-size="9.9" fill="#333" stroke="#333" stroke-width="0.18">Median</text>
<text x="494.9" y="391.1" font-size="9.9" fill="#333" stroke="#333" stroke-width="0.18">Minimum</text>
<text x="476.4" y="355.4" font-size="8.6" text-anchor="end" fill="#333" stroke="#333" stroke-width="0.18">3rd</text>
<text x="475.8" y="376.6" font-size="8.6" text-anchor="end" fill="#333" stroke="#333" stroke-width="0.18">1st</text>
<rect x="475.5" y="406.50" width="13.2" height="10.2" fill="#7ca4b4" stroke="#56707a" stroke-width="1"/>
<text x="500" y="416.00" font-size="10.5" fill="#333" stroke="#333" stroke-width="0.18">Py1</text>
<rect x="475.5" y="424.10" width="13.2" height="10.2" fill="#c7c2bf" stroke="#6e6b69" stroke-width="1"/>
<text x="500" y="433.60" font-size="10.5" fill="#333" stroke="#333" stroke-width="0.18">Py2</text>
<rect x="475.5" y="443.20" width="13.2" height="10.2" fill="#4a5780" stroke="#323c5e" stroke-width="1"/>
<text x="500" y="452.70" font-size="10.5" fill="#333" stroke="#333" stroke-width="0.18">Py3</text>
<rect x="475.5" y="461.40" width="13.2" height="10.2" fill="#f5a536" stroke="#b47b3a" stroke-width="1"/>
<text x="500" y="470.90" font-size="10.5" fill="#333" stroke="#333" stroke-width="0.18">Py4</text>
</svg></body></html>
